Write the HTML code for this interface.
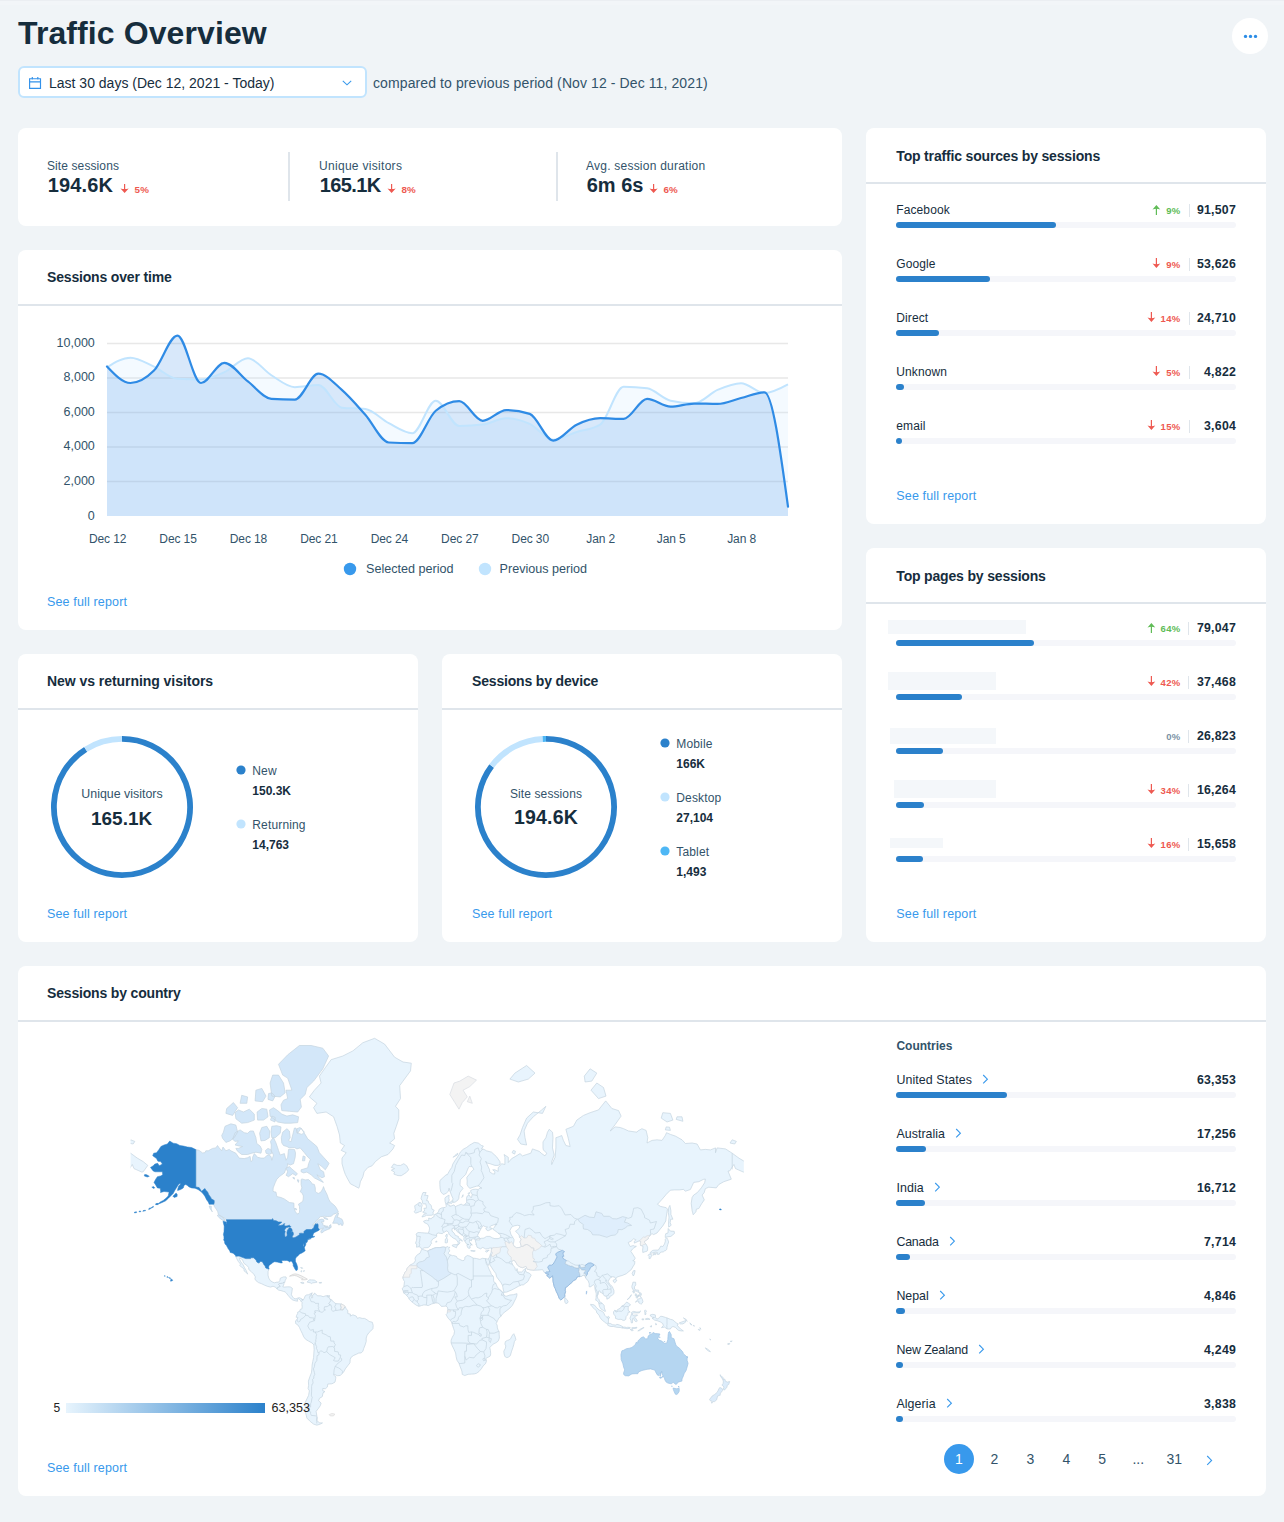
<!DOCTYPE html>
<html><head><meta charset="utf-8"><title>Traffic Overview</title>
<style>
*{box-sizing:border-box;margin:0;padding:0}
html,body{width:1284px;height:1522px;overflow:hidden}
body{background:#f0f4f7;font-family:"Liberation Sans",sans-serif;color:#162d3d;position:relative}
.abs{position:absolute}
.card{position:absolute;background:#fff;border-radius:8px}
.hd{position:absolute;left:0;right:0;height:2px;background:#dfe5eb}
.t{position:absolute;white-space:nowrap;line-height:1}
.ct{font-size:14px;font-weight:700;color:#162d3d}
.lnk{font-size:13px;color:#3899ec}
.lbl{font-size:13px;color:#162d3d}
.val{font-size:13px;font-weight:700;color:#162d3d;text-align:right}
.sec{color:#32536a}
.track{position:absolute;height:6px;border-radius:3px;background:#f5f6fa}
.bar{position:absolute;left:0;top:0;height:6px;border-radius:3px;background:#2b81cb}
.red{color:#ee5951}.grn{color:#60bc57}
.pct{position:absolute;font-size:10.5px;font-weight:700;white-space:nowrap;line-height:1;text-align:right}
.vd{position:absolute;width:1px;background:#dfe5eb}
</style></head>
<body>
<div class="abs" style="left:0;top:0;width:1284px;height:1px;background:#ebeef2"></div>
<div class="abs" style="left:0;top:1px;width:1284px;height:4px;background:#f2f5f8"></div>
<div class="t " style="left:18px;top:17.11px;font-size:32px;font-weight:700;color:#162d3d;letter-spacing:0.1px;">Traffic Overview</div>
<div class="abs" style="left:1232px;top:18px;width:36px;height:36px;border-radius:50%;background:#fff"></div>
<svg class="abs" style="left:1240px;top:30px" width="20" height="12" viewBox="0 0 20 12"><circle cx="5.5" cy="6.4" r="1.65" fill="#2b8ce6"/><circle cx="10.5" cy="6.4" r="1.65" fill="#2b8ce6"/><circle cx="15.5" cy="6.4" r="1.65" fill="#2b8ce6"/></svg>
<div class="abs" style="left:18px;top:66px;width:349px;height:32px;border:2px solid #c1e4fe;border-radius:6px;background:#fff"></div>
<svg class="abs" style="left:28px;top:76px" width="14" height="14" viewBox="0 0 14 14"><path d="M1.6 2.7h10.9v9.6H1.6zM1.6 5.8h10.9M4.3 1.1v2.4M9.8 1.1v2.4" fill="none" stroke="#3291ea" stroke-width="1.15"/></svg>
<div class="t " style="left:49px;top:76.15px;font-size:14px;color:#162d3d;">Last 30 days (Dec 12, 2021 - Today)</div>
<svg class="abs" style="left:341px;top:79px" width="12" height="8" viewBox="0 0 12 8"><path d="M1.8 1.8L6 5.8L10.2 1.8" fill="none" stroke="#3899ec" stroke-width="1.1"/></svg>
<div class="t " style="left:373px;top:76.15px;font-size:14px;color:#32536a;letter-spacing:0.1px;">compared to previous period (Nov 12 - Dec 11, 2021)</div>
<div class="card" style="left:18px;top:128px;width:824px;height:98px"></div>
<div class="vd" style="left:288px;top:152px;height:49px;width:2px"></div>
<div class="vd" style="left:556px;top:152px;height:49px;width:2px"></div>
<div class="t " style="left:47px;top:159.64px;font-size:12px;color:#32536a;letter-spacing:0.1px;">Site sessions</div>
<div class="t " style="left:47.7px;top:174.67px;font-size:20px;font-weight:700;color:#162d3d;letter-spacing:0.15px;">194.6K</div>
<div class="t " style="left:319px;top:159.64px;font-size:12px;color:#32536a;letter-spacing:0.3px;">Unique visitors</div>
<div class="t " style="left:319.7px;top:174.67px;font-size:20px;font-weight:700;color:#162d3d;letter-spacing:-0.62px;">165.1K</div>
<div class="t " style="left:586px;top:159.64px;font-size:12px;color:#32536a;letter-spacing:0.23px;">Avg. session duration</div>
<div class="t " style="left:586.7px;top:174.67px;font-size:20px;font-weight:700;color:#162d3d;letter-spacing:0.0px;">6m 6s</div>
<div class="abs" style="left:120.30px;top:184.3px"><svg width="9.2" height="8.9" viewBox="0 0 9.2 8.9" style="display:block;flex:none"><path d="M4.6 0V6.4" stroke="#ee5951" stroke-width="1.2" fill="none"/><path d="M0.5 4.5Q4.6 5.7 8.7 4.5L4.6 8.9Z" fill="#ee5951"/></svg></div>
<div class="t " style="left:134.6px;top:185.4px;font-size:9.8px;font-weight:700;color:#ee5951;letter-spacing:0.15px;">5%</div>
<div class="abs" style="left:387.10px;top:184.3px"><svg width="9.2" height="8.9" viewBox="0 0 9.2 8.9" style="display:block;flex:none"><path d="M4.6 0V6.4" stroke="#ee5951" stroke-width="1.2" fill="none"/><path d="M0.5 4.5Q4.6 5.7 8.7 4.5L4.6 8.9Z" fill="#ee5951"/></svg></div>
<div class="t " style="left:401.4px;top:185.4px;font-size:9.8px;font-weight:700;color:#ee5951;letter-spacing:0.15px;">8%</div>
<div class="abs" style="left:649.30px;top:184.3px"><svg width="9.2" height="8.9" viewBox="0 0 9.2 8.9" style="display:block;flex:none"><path d="M4.6 0V6.4" stroke="#ee5951" stroke-width="1.2" fill="none"/><path d="M0.5 4.5Q4.6 5.7 8.7 4.5L4.6 8.9Z" fill="#ee5951"/></svg></div>
<div class="t " style="left:663.5px;top:185.4px;font-size:9.8px;font-weight:700;color:#ee5951;letter-spacing:0.15px;">6%</div>
<div class="card" style="left:18px;top:250px;width:824px;height:380px"><div class="hd" style="top:54px"></div></div>
<div class="t " style="left:47px;top:270.35px;font-size:14px;font-weight:700;color:#162d3d;letter-spacing:-0.17px;">Sessions over time</div>
<svg class="abs" style="left:0;top:320px" width="860" height="210" viewBox="0 320 860 210"><rect x="107.0" y="480.75" width="681.0" height="1.5" fill="#e8e8e8"/><rect x="107.0" y="446.25" width="681.0" height="1.5" fill="#e8e8e8"/><rect x="107.0" y="411.75" width="681.0" height="1.5" fill="#e8e8e8"/><rect x="107.0" y="377.25" width="681.0" height="1.5" fill="#e8e8e8"/><rect x="107.0" y="342.75" width="681.0" height="1.5" fill="#e8e8e8"/><path d="M107.00,367.31C114.83,362.47 122.66,357.64 130.48,357.64C138.31,357.64 146.14,363.08 153.97,366.62C161.79,370.15 169.62,378.52 177.45,378.86C185.28,379.21 193.10,379.38 200.93,379.38C208.76,379.38 216.59,375.67 224.41,372.13C232.24,368.60 240.07,358.16 247.90,358.16C255.72,358.16 263.55,370.41 271.38,375.24C279.21,380.07 287.03,387.14 294.86,387.14C302.69,387.14 310.52,384.90 318.34,384.90C326.17,384.90 334.00,406.75 341.83,407.67C349.66,408.59 357.48,408.13 365.31,409.05C373.14,409.97 380.97,419.17 388.79,423.19C396.62,427.22 404.45,433.20 412.28,433.20C420.10,433.20 427.93,400.77 435.76,400.77C443.59,400.77 451.41,425.96 459.24,425.96C467.07,425.96 474.90,425.50 482.72,424.57C490.55,423.65 498.38,418.19 506.21,418.19C514.03,418.19 521.86,420.29 529.69,423.88C537.52,427.48 545.34,439.75 553.17,439.75C561.00,439.75 568.83,434.52 576.66,431.99C584.48,429.46 592.31,429.52 600.14,424.57C607.97,419.63 615.79,386.80 623.62,386.80C631.45,386.80 639.28,387.31 647.10,388.35C654.93,389.39 662.76,399.04 670.59,400.77C678.41,402.50 686.24,403.36 694.07,403.36C701.90,403.36 709.72,393.27 717.55,389.90C725.38,386.54 733.21,383.18 741.03,383.18C748.86,383.18 756.69,393.01 764.52,393.01C772.34,393.01 780.17,388.69 788.00,384.38L788.0,516.0L107.0,516.0Z" fill="#c1e4fe" fill-opacity="0.18"/><path d="M107.00,366.44C114.83,374.72 122.66,383.00 130.48,383.00C138.31,383.00 146.14,378.49 153.97,370.58C161.79,362.68 169.62,335.56 177.45,335.56C185.28,335.56 193.10,383.00 200.93,383.00C208.76,383.00 216.59,362.82 224.41,362.82C232.24,362.82 240.07,375.44 247.90,381.45C255.72,387.46 263.55,398.41 271.38,398.87C279.21,399.33 287.03,399.56 294.86,399.56C302.69,399.56 310.52,373.69 318.34,373.69C326.17,373.69 334.00,383.06 341.83,389.90C349.66,396.75 357.48,405.97 365.31,414.74C373.14,423.51 380.97,442.05 388.79,442.51C396.62,442.98 404.45,443.21 412.28,443.21C420.10,443.21 427.93,417.21 435.76,410.77C443.59,404.33 451.41,401.12 459.24,401.12C467.07,401.12 474.90,420.78 482.72,420.78C490.55,420.78 498.38,410.09 506.21,410.09C514.03,410.09 521.86,411.35 529.69,413.88C537.52,416.41 545.34,440.62 553.17,440.62C561.00,440.62 568.83,428.49 576.66,424.75C584.48,421.01 592.31,418.19 600.14,418.19C607.97,418.19 615.79,418.88 623.62,418.88C631.45,418.88 639.28,398.87 647.10,398.87C654.93,398.87 662.76,406.63 670.59,406.63C678.41,406.63 686.24,403.53 694.07,403.53C701.90,403.53 709.72,403.88 717.55,403.88C725.38,403.88 733.21,399.94 741.03,398.01C748.86,396.08 756.69,392.32 764.52,392.32C772.34,392.32 780.17,449.50 788.00,506.69L788.0,516.0L107.0,516.0Z" fill="#3a8ee6" fill-opacity="0.2"/><path d="M107.00,367.31C114.83,362.47 122.66,357.64 130.48,357.64C138.31,357.64 146.14,363.08 153.97,366.62C161.79,370.15 169.62,378.52 177.45,378.86C185.28,379.21 193.10,379.38 200.93,379.38C208.76,379.38 216.59,375.67 224.41,372.13C232.24,368.60 240.07,358.16 247.90,358.16C255.72,358.16 263.55,370.41 271.38,375.24C279.21,380.07 287.03,387.14 294.86,387.14C302.69,387.14 310.52,384.90 318.34,384.90C326.17,384.90 334.00,406.75 341.83,407.67C349.66,408.59 357.48,408.13 365.31,409.05C373.14,409.97 380.97,419.17 388.79,423.19C396.62,427.22 404.45,433.20 412.28,433.20C420.10,433.20 427.93,400.77 435.76,400.77C443.59,400.77 451.41,425.96 459.24,425.96C467.07,425.96 474.90,425.50 482.72,424.57C490.55,423.65 498.38,418.19 506.21,418.19C514.03,418.19 521.86,420.29 529.69,423.88C537.52,427.48 545.34,439.75 553.17,439.75C561.00,439.75 568.83,434.52 576.66,431.99C584.48,429.46 592.31,429.52 600.14,424.57C607.97,419.63 615.79,386.80 623.62,386.80C631.45,386.80 639.28,387.31 647.10,388.35C654.93,389.39 662.76,399.04 670.59,400.77C678.41,402.50 686.24,403.36 694.07,403.36C701.90,403.36 709.72,393.27 717.55,389.90C725.38,386.54 733.21,383.18 741.03,383.18C748.86,383.18 756.69,393.01 764.52,393.01C772.34,393.01 780.17,388.69 788.00,384.38" fill="none" stroke="#c1e4fe" stroke-width="2" stroke-linejoin="round"/><path d="M107.00,366.44C114.83,374.72 122.66,383.00 130.48,383.00C138.31,383.00 146.14,378.49 153.97,370.58C161.79,362.68 169.62,335.56 177.45,335.56C185.28,335.56 193.10,383.00 200.93,383.00C208.76,383.00 216.59,362.82 224.41,362.82C232.24,362.82 240.07,375.44 247.90,381.45C255.72,387.46 263.55,398.41 271.38,398.87C279.21,399.33 287.03,399.56 294.86,399.56C302.69,399.56 310.52,373.69 318.34,373.69C326.17,373.69 334.00,383.06 341.83,389.90C349.66,396.75 357.48,405.97 365.31,414.74C373.14,423.51 380.97,442.05 388.79,442.51C396.62,442.98 404.45,443.21 412.28,443.21C420.10,443.21 427.93,417.21 435.76,410.77C443.59,404.33 451.41,401.12 459.24,401.12C467.07,401.12 474.90,420.78 482.72,420.78C490.55,420.78 498.38,410.09 506.21,410.09C514.03,410.09 521.86,411.35 529.69,413.88C537.52,416.41 545.34,440.62 553.17,440.62C561.00,440.62 568.83,428.49 576.66,424.75C584.48,421.01 592.31,418.19 600.14,418.19C607.97,418.19 615.79,418.88 623.62,418.88C631.45,418.88 639.28,398.87 647.10,398.87C654.93,398.87 662.76,406.63 670.59,406.63C678.41,406.63 686.24,403.53 694.07,403.53C701.90,403.53 709.72,403.88 717.55,403.88C725.38,403.88 733.21,399.94 741.03,398.01C748.86,396.08 756.69,392.32 764.52,392.32C772.34,392.32 780.17,449.50 788.00,506.69" fill="none" stroke="#2f8be5" stroke-width="2.2" stroke-linejoin="round" stroke-linecap="round"/></svg>
<div class="t " style="right:1189.2px;top:510.02px;font-size:12.5px;color:#32536a;">0</div>
<div class="t " style="right:1189.2px;top:474.82px;font-size:12.5px;color:#32536a;">2,000</div>
<div class="t " style="right:1189.2px;top:440.32px;font-size:12.5px;color:#32536a;">4,000</div>
<div class="t " style="right:1189.2px;top:405.82px;font-size:12.5px;color:#32536a;">6,000</div>
<div class="t " style="right:1189.2px;top:371.32px;font-size:12.5px;color:#32536a;">8,000</div>
<div class="t " style="right:1189.2px;top:336.82px;font-size:12.5px;color:#32536a;">10,000</div>
<div class="t " style="left:67.6px;top:532.64px;font-size:12px;color:#32536a;letter-spacing:-0.1px;width:80px;text-align:center;">Dec 12</div>
<div class="t " style="left:138.04827586206895px;top:532.64px;font-size:12px;color:#32536a;letter-spacing:-0.1px;width:80px;text-align:center;">Dec 15</div>
<div class="t " style="left:208.49655172413793px;top:532.64px;font-size:12px;color:#32536a;letter-spacing:-0.1px;width:80px;text-align:center;">Dec 18</div>
<div class="t " style="left:278.9448275862069px;top:532.64px;font-size:12px;color:#32536a;letter-spacing:-0.1px;width:80px;text-align:center;">Dec 21</div>
<div class="t " style="left:349.3931034482759px;top:532.64px;font-size:12px;color:#32536a;letter-spacing:-0.1px;width:80px;text-align:center;">Dec 24</div>
<div class="t " style="left:419.84137931034485px;top:532.64px;font-size:12px;color:#32536a;letter-spacing:-0.1px;width:80px;text-align:center;">Dec 27</div>
<div class="t " style="left:490.28965517241375px;top:532.64px;font-size:12px;color:#32536a;letter-spacing:-0.1px;width:80px;text-align:center;">Dec 30</div>
<div class="t " style="left:560.7379310344828px;top:532.64px;font-size:12px;color:#32536a;letter-spacing:-0.1px;width:80px;text-align:center;">Jan 2</div>
<div class="t " style="left:631.1862068965518px;top:532.64px;font-size:12px;color:#32536a;letter-spacing:-0.1px;width:80px;text-align:center;">Jan 5</div>
<div class="t " style="left:701.6344827586207px;top:532.64px;font-size:12px;color:#32536a;letter-spacing:-0.1px;width:80px;text-align:center;">Jan 8</div>
<svg class="abs" style="left:342.4px;top:560.9px" width="16" height="16" viewBox="0 0 16 16"><circle cx="8" cy="8" r="6.2" fill="#3899ec"/></svg>
<div class="t " style="left:366px;top:563.03px;font-size:12.6px;color:#32536a;">Selected period</div>
<svg class="abs" style="left:476.5px;top:560.9px" width="16" height="16" viewBox="0 0 16 16"><circle cx="8" cy="8" r="6.2" fill="#c1e4fe"/></svg>
<div class="t " style="left:499.6px;top:563.03px;font-size:12.6px;color:#32536a;">Previous period</div>
<div class="t " style="left:47px;top:595.92px;font-size:12.5px;color:#3899ec;letter-spacing:0.15px;">See full report</div>
<div class="card" style="left:866px;top:128px;width:400px;height:396px"><div class="hd" style="top:54px"></div></div>
<div class="t " style="left:896.3px;top:148.75px;font-size:14px;font-weight:700;color:#162d3d;letter-spacing:-0.17px;">Top traffic sources by sessions</div>
<div class="t " style="left:896.3px;top:203.84px;font-size:12px;color:#162d3d;letter-spacing:0.1px;">Facebook</div>
<div class="abs" style="right:103.79999999999995px;top:206.46px;display:flex;align-items:flex-start;white-space:nowrap"><div style="margin-top:-1.66px;margin-right:4.9px"><svg width="8.8" height="10.0" viewBox="0 0 8.8 10.0" style="display:block;flex:none"><path d="M4.4 10.0V2.5" stroke="#60bc57" stroke-width="1.2" fill="none"/><path d="M0.5000000000000004 4.4Q4.4 3.2 8.3 4.4L4.4 0Z" fill="#60bc57"/></svg></div><span style="font-size:9.5px;font-weight:700;letter-spacing:0.3px;color:#60bc57;line-height:1;margin-right:-0.3px">9%</span></div>
<div class="vd" style="left:1189.0px;top:204.2px;height:12.6px"></div>
<div class="t " style="right:47.950000000000045px;top:203.79px;font-size:12.3px;font-weight:700;color:#162d3d;letter-spacing:0.25px;">91,507</div>
<div class="track" style="left:896px;top:222px;width:340px"><div class="bar" style="width:159.9px"></div></div>
<div class="t " style="left:896.3px;top:257.84px;font-size:12px;color:#162d3d;letter-spacing:0.1px;">Google</div>
<div class="abs" style="right:103.79999999999995px;top:260.46px;display:flex;align-items:flex-start;white-space:nowrap"><div style="margin-top:-2.46px;margin-right:4.9px"><svg width="8.8" height="10.0" viewBox="0 0 8.8 10.0" style="display:block;flex:none"><path d="M4.4 0V7.5" stroke="#ee5951" stroke-width="1.2" fill="none"/><path d="M0.5000000000000004 5.6Q4.4 6.8 8.3 5.6L4.4 10.0Z" fill="#ee5951"/></svg></div><span style="font-size:9.5px;font-weight:700;letter-spacing:0.3px;color:#ee5951;line-height:1;margin-right:-0.3px">9%</span></div>
<div class="vd" style="left:1189.0px;top:258.2px;height:12.6px"></div>
<div class="t " style="right:47.950000000000045px;top:257.79px;font-size:12.3px;font-weight:700;color:#162d3d;letter-spacing:0.25px;">53,626</div>
<div class="track" style="left:896px;top:276px;width:340px"><div class="bar" style="width:93.7px"></div></div>
<div class="t " style="left:896.3px;top:311.84px;font-size:12px;color:#162d3d;letter-spacing:0.1px;">Direct</div>
<div class="abs" style="right:103.79999999999995px;top:314.46px;display:flex;align-items:flex-start;white-space:nowrap"><div style="margin-top:-2.46px;margin-right:4.9px"><svg width="8.8" height="10.0" viewBox="0 0 8.8 10.0" style="display:block;flex:none"><path d="M4.4 0V7.5" stroke="#ee5951" stroke-width="1.2" fill="none"/><path d="M0.5000000000000004 5.6Q4.4 6.8 8.3 5.6L4.4 10.0Z" fill="#ee5951"/></svg></div><span style="font-size:9.5px;font-weight:700;letter-spacing:0.3px;color:#ee5951;line-height:1;margin-right:-0.3px">14%</span></div>
<div class="vd" style="left:1189.0px;top:312.2px;height:12.6px"></div>
<div class="t " style="right:47.950000000000045px;top:311.79px;font-size:12.3px;font-weight:700;color:#162d3d;letter-spacing:0.25px;">24,710</div>
<div class="track" style="left:896px;top:330px;width:340px"><div class="bar" style="width:43.2px"></div></div>
<div class="t " style="left:896.3px;top:365.84px;font-size:12px;color:#162d3d;letter-spacing:0.1px;">Unknown</div>
<div class="abs" style="right:103.79999999999995px;top:368.46px;display:flex;align-items:flex-start;white-space:nowrap"><div style="margin-top:-2.46px;margin-right:4.9px"><svg width="8.8" height="10.0" viewBox="0 0 8.8 10.0" style="display:block;flex:none"><path d="M4.4 0V7.5" stroke="#ee5951" stroke-width="1.2" fill="none"/><path d="M0.5000000000000004 5.6Q4.4 6.8 8.3 5.6L4.4 10.0Z" fill="#ee5951"/></svg></div><span style="font-size:9.5px;font-weight:700;letter-spacing:0.3px;color:#ee5951;line-height:1;margin-right:-0.3px">5%</span></div>
<div class="vd" style="left:1189.0px;top:366.2px;height:12.6px"></div>
<div class="t " style="right:47.950000000000045px;top:365.79px;font-size:12.3px;font-weight:700;color:#162d3d;letter-spacing:0.25px;">4,822</div>
<div class="track" style="left:896px;top:384px;width:340px"><div class="bar" style="width:8.4px"></div></div>
<div class="t " style="left:896.3px;top:419.84px;font-size:12px;color:#162d3d;letter-spacing:0.1px;">email</div>
<div class="abs" style="right:103.79999999999995px;top:422.46px;display:flex;align-items:flex-start;white-space:nowrap"><div style="margin-top:-2.46px;margin-right:4.9px"><svg width="8.8" height="10.0" viewBox="0 0 8.8 10.0" style="display:block;flex:none"><path d="M4.4 0V7.5" stroke="#ee5951" stroke-width="1.2" fill="none"/><path d="M0.5000000000000004 5.6Q4.4 6.8 8.3 5.6L4.4 10.0Z" fill="#ee5951"/></svg></div><span style="font-size:9.5px;font-weight:700;letter-spacing:0.3px;color:#ee5951;line-height:1;margin-right:-0.3px">15%</span></div>
<div class="vd" style="left:1189.0px;top:420.2px;height:12.6px"></div>
<div class="t " style="right:47.950000000000045px;top:419.79px;font-size:12.3px;font-weight:700;color:#162d3d;letter-spacing:0.25px;">3,604</div>
<div class="track" style="left:896px;top:438px;width:340px"><div class="bar" style="width:6.3px"></div></div>
<div class="t " style="left:896.3px;top:489.92px;font-size:12.5px;color:#3899ec;letter-spacing:0.15px;">See full report</div>
<div class="card" style="left:866px;top:548px;width:400px;height:394px"><div class="hd" style="top:54px"></div></div>
<div class="t " style="left:896.3px;top:568.75px;font-size:14px;font-weight:700;color:#162d3d;letter-spacing:-0.17px;">Top pages by sessions</div>
<div class="abs" style="left:888px;top:620px;width:138px;height:13.8px;background:#f4f7fa"></div>
<div class="abs" style="right:103.79999999999995px;top:624.26px;display:flex;align-items:flex-start;white-space:nowrap"><div style="margin-top:-1.66px;margin-right:4.9px"><svg width="8.8" height="10.0" viewBox="0 0 8.8 10.0" style="display:block;flex:none"><path d="M4.4 10.0V2.5" stroke="#60bc57" stroke-width="1.2" fill="none"/><path d="M0.5000000000000004 4.4Q4.4 3.2 8.3 4.4L4.4 0Z" fill="#60bc57"/></svg></div><span style="font-size:9.5px;font-weight:700;letter-spacing:0.3px;color:#60bc57;line-height:1;margin-right:-0.3px">64%</span></div>
<div class="vd" style="left:1188.3px;top:622.0px;height:12.6px"></div>
<div class="t " style="right:47.950000000000045px;top:621.59px;font-size:12.3px;font-weight:700;color:#162d3d;letter-spacing:0.25px;">79,047</div>
<div class="track" style="left:896px;top:640.3px;width:340px"><div class="bar" style="width:138.1px"></div></div>
<div class="abs" style="left:888px;top:672px;width:108px;height:17.6px;background:#f4f7fa"></div>
<div class="abs" style="right:103.79999999999995px;top:678.26px;display:flex;align-items:flex-start;white-space:nowrap"><div style="margin-top:-2.46px;margin-right:4.9px"><svg width="8.8" height="10.0" viewBox="0 0 8.8 10.0" style="display:block;flex:none"><path d="M4.4 0V7.5" stroke="#ee5951" stroke-width="1.2" fill="none"/><path d="M0.5000000000000004 5.6Q4.4 6.8 8.3 5.6L4.4 10.0Z" fill="#ee5951"/></svg></div><span style="font-size:9.5px;font-weight:700;letter-spacing:0.3px;color:#ee5951;line-height:1;margin-right:-0.3px">42%</span></div>
<div class="vd" style="left:1188.3px;top:676.0px;height:12.6px"></div>
<div class="t " style="right:47.950000000000045px;top:675.59px;font-size:12.3px;font-weight:700;color:#162d3d;letter-spacing:0.25px;">37,468</div>
<div class="track" style="left:896px;top:694.3px;width:340px"><div class="bar" style="width:65.5px"></div></div>
<div class="abs" style="left:889.7px;top:728px;width:106.3px;height:15.8px;background:#f4f7fa"></div>
<div class="abs" style="right:103.79999999999995px;top:732.26px;display:flex;align-items:flex-start;white-space:nowrap"><span style="font-size:9.5px;font-weight:700;letter-spacing:0.3px;color:#7a92a5;line-height:1;margin-right:-0.3px">0%</span></div>
<div class="vd" style="left:1188.3px;top:730.0px;height:12.6px"></div>
<div class="t " style="right:47.950000000000045px;top:729.59px;font-size:12.3px;font-weight:700;color:#162d3d;letter-spacing:0.25px;">26,823</div>
<div class="track" style="left:896px;top:748.3px;width:340px"><div class="bar" style="width:46.9px"></div></div>
<div class="abs" style="left:894px;top:780.4px;width:102px;height:17.2px;background:#f4f7fa"></div>
<div class="abs" style="right:103.79999999999995px;top:786.26px;display:flex;align-items:flex-start;white-space:nowrap"><div style="margin-top:-2.46px;margin-right:4.9px"><svg width="8.8" height="10.0" viewBox="0 0 8.8 10.0" style="display:block;flex:none"><path d="M4.4 0V7.5" stroke="#ee5951" stroke-width="1.2" fill="none"/><path d="M0.5000000000000004 5.6Q4.4 6.8 8.3 5.6L4.4 10.0Z" fill="#ee5951"/></svg></div><span style="font-size:9.5px;font-weight:700;letter-spacing:0.3px;color:#ee5951;line-height:1;margin-right:-0.3px">34%</span></div>
<div class="vd" style="left:1188.3px;top:784.0px;height:12.6px"></div>
<div class="t " style="right:47.950000000000045px;top:783.59px;font-size:12.3px;font-weight:700;color:#162d3d;letter-spacing:0.25px;">16,264</div>
<div class="track" style="left:896px;top:802.3px;width:340px"><div class="bar" style="width:28.4px"></div></div>
<div class="abs" style="left:889.7px;top:838px;width:53.3px;height:9.8px;background:#f4f7fa"></div>
<div class="abs" style="right:103.79999999999995px;top:840.26px;display:flex;align-items:flex-start;white-space:nowrap"><div style="margin-top:-2.46px;margin-right:4.9px"><svg width="8.8" height="10.0" viewBox="0 0 8.8 10.0" style="display:block;flex:none"><path d="M4.4 0V7.5" stroke="#ee5951" stroke-width="1.2" fill="none"/><path d="M0.5000000000000004 5.6Q4.4 6.8 8.3 5.6L4.4 10.0Z" fill="#ee5951"/></svg></div><span style="font-size:9.5px;font-weight:700;letter-spacing:0.3px;color:#ee5951;line-height:1;margin-right:-0.3px">16%</span></div>
<div class="vd" style="left:1188.3px;top:838.0px;height:12.6px"></div>
<div class="t " style="right:47.950000000000045px;top:837.59px;font-size:12.3px;font-weight:700;color:#162d3d;letter-spacing:0.25px;">15,658</div>
<div class="track" style="left:896px;top:856.3px;width:340px"><div class="bar" style="width:27.4px"></div></div>
<div class="t " style="left:896.3px;top:907.92px;font-size:12.5px;color:#3899ec;letter-spacing:0.15px;">See full report</div>
<div class="card" style="left:18px;top:654px;width:400px;height:288px"><div class="hd" style="top:54px"></div></div>
<div class="card" style="left:442px;top:654px;width:400px;height:288px"><div class="hd" style="top:54px"></div></div>
<div class="t " style="left:47px;top:674.35px;font-size:14px;font-weight:700;color:#162d3d;letter-spacing:-0.05px;">New vs returning visitors</div>
<div class="t " style="left:472px;top:674.35px;font-size:14px;font-weight:700;color:#162d3d;letter-spacing:-0.17px;">Sessions by device</div>
<svg class="abs" style="left:47.2px;top:731.7px" width="150" height="150" viewBox="47.2 731.7 150 150"><path d="M122.20 738.60A68.1 68.1 0 1 1 85.91 749.07" fill="none" stroke="#2b81cb" stroke-width="5.8"/><path d="M85.91 749.07A68.1 68.1 0 0 1 122.19 738.60" fill="none" stroke="#c1e4fe" stroke-width="5.8"/></svg>
<div class="t " style="left:42px;top:788.0px;font-size:12.4px;color:#32536a;width:160px;text-align:center;">Unique visitors</div>
<div class="t " style="left:41.599999999999994px;top:808.62px;font-size:19px;font-weight:700;color:#162d3d;width:160px;text-align:center;">165.1K</div>
<svg class="abs" style="left:235.1px;top:764.1px" width="12" height="12" viewBox="0 0 12 12"><circle cx="6" cy="6" r="4.6" fill="#2b81cb"/></svg>
<div class="t " style="left:252.3px;top:764.64px;font-size:12px;color:#32536a;letter-spacing:0.15px;">New</div>
<div class="t " style="left:252.3px;top:784.64px;font-size:12px;font-weight:700;color:#162d3d;">150.3K</div>
<svg class="abs" style="left:235.1px;top:818.1px" width="12" height="12" viewBox="0 0 12 12"><circle cx="6" cy="6" r="4.6" fill="#c1e4fe"/></svg>
<div class="t " style="left:252.3px;top:818.64px;font-size:12px;color:#32536a;letter-spacing:0.15px;">Returning</div>
<div class="t " style="left:252.3px;top:838.64px;font-size:12px;font-weight:700;color:#162d3d;">14,763</div>
<div class="t " style="left:47px;top:907.92px;font-size:12.5px;color:#3899ec;letter-spacing:0.15px;">See full report</div>
<svg class="abs" style="left:471px;top:731.7px" width="150" height="150" viewBox="471 731.7 150 150"><path d="M546.00 738.60A68.1 68.1 0 1 1 491.68 765.63" fill="none" stroke="#2b81cb" stroke-width="5.8"/><path d="M491.68 765.63A68.1 68.1 0 0 1 542.72 738.68" fill="none" stroke="#c1e4fe" stroke-width="5.8"/><path d="M542.72 738.68A68.1 68.1 0 0 1 545.99 738.60" fill="none" stroke="#4eb7f5" stroke-width="5.8"/></svg>
<div class="t " style="left:466px;top:788.34px;font-size:12px;color:#32536a;letter-spacing:0.1px;width:160px;text-align:center;">Site sessions</div>
<div class="t " style="left:466px;top:808.19px;font-size:19.5px;font-weight:700;color:#162d3d;letter-spacing:0.2px;width:160px;text-align:center;">194.6K</div>
<svg class="abs" style="left:659.1px;top:737.1px" width="12" height="12" viewBox="0 0 12 12"><circle cx="6" cy="6" r="4.6" fill="#2b81cb"/></svg>
<div class="t " style="left:676.3px;top:737.64px;font-size:12px;color:#32536a;letter-spacing:0.15px;">Mobile</div>
<div class="t " style="left:676.3px;top:757.64px;font-size:12px;font-weight:700;color:#162d3d;">166K</div>
<svg class="abs" style="left:659.1px;top:791.1px" width="12" height="12" viewBox="0 0 12 12"><circle cx="6" cy="6" r="4.6" fill="#c1e4fe"/></svg>
<div class="t " style="left:676.3px;top:791.64px;font-size:12px;color:#32536a;letter-spacing:0.15px;">Desktop</div>
<div class="t " style="left:676.3px;top:811.64px;font-size:12px;font-weight:700;color:#162d3d;">27,104</div>
<svg class="abs" style="left:659.1px;top:845.1px" width="12" height="12" viewBox="0 0 12 12"><circle cx="6" cy="6" r="4.6" fill="#4eb7f5"/></svg>
<div class="t " style="left:676.3px;top:845.64px;font-size:12px;color:#32536a;letter-spacing:0.15px;">Tablet</div>
<div class="t " style="left:676.3px;top:865.64px;font-size:12px;font-weight:700;color:#162d3d;">1,493</div>
<div class="t " style="left:472px;top:907.92px;font-size:12.5px;color:#3899ec;letter-spacing:0.15px;">See full report</div>
<div class="card" style="left:18px;top:966px;width:1248px;height:530px"><div class="hd" style="top:54px"></div></div>
<svg class="abs" style="left:18px;top:1022px" width="840" height="420" viewBox="18 1022 840 420"><path d="M195.8 1149.6L199.1 1150.4L202.5 1152.9L205.0 1152.7L205.8 1150.8L208.3 1150.8L212.5 1148.4L215.8 1147.9L217.5 1145.5L219.2 1147.9L221.7 1150.8L223.0 1147.0L225.9 1150.8L229.2 1149.4L230.9 1150.8L235.9 1153.2L239.2 1158.1L244.2 1158.6L247.6 1157.7L250.1 1156.4L250.9 1161.6L252.6 1160.3L252.6 1157.3L254.3 1153.6L257.6 1157.3L261.0 1158.1L264.3 1158.1L266.8 1155.5L268.5 1155.0L271.0 1156.4L271.8 1160.3L273.5 1155.0L271.0 1150.4L271.3 1145.0L270.5 1141.4L272.7 1138.2L273.5 1137.7L276.0 1143.0L277.7 1147.9L278.5 1150.4L280.2 1155.0L284.4 1153.6L286.0 1160.3L287.7 1157.3L288.5 1149.4L294.4 1149.4L295.5 1152.7L295.2 1157.3L293.5 1163.7L290.2 1165.0L287.4 1163.7L287.7 1165.8L286.0 1168.6L284.4 1172.9L279.8 1176.3L276.8 1179.2L275.2 1182.8L273.2 1187.9L273.0 1191.2L274.0 1191.8L276.0 1192.1L276.8 1196.5L281.0 1197.5L284.4 1199.0L289.4 1202.5L293.9 1203.1L294.0 1207.7L295.2 1211.3L296.9 1213.7L298.1 1214.0L299.4 1212.4L299.7 1209.6L299.4 1206.3L298.4 1204.3L302.7 1201.4L303.2 1199.0L303.4 1195.9L301.9 1192.8L300.2 1191.8L301.9 1187.9L301.1 1184.5L301.1 1179.6L301.9 1178.9L305.2 1179.9L308.6 1179.6L311.1 1182.1L311.9 1183.8L314.4 1184.5L315.3 1187.9L315.3 1191.2L316.9 1192.8L318.6 1193.4L321.1 1191.8L322.8 1188.6L323.5 1186.6L324.5 1189.5L327.0 1194.4L328.6 1199.0L330.3 1202.0L332.8 1204.0L335.3 1206.3L337.0 1209.1L338.3 1211.8L336.2 1213.4L333.6 1214.2L331.1 1216.3L327.8 1216.5L324.5 1216.3L320.3 1216.6L318.6 1218.7L316.1 1220.7L314.4 1223.0L312.4 1225.2L314.4 1224.7L316.1 1222.2L318.6 1219.9L321.9 1219.1L324.0 1219.9L323.6 1222.0L321.1 1222.0L322.8 1223.2L323.1 1225.2L324.5 1226.6L326.1 1227.6L328.0 1227.3L329.5 1228.8L331.1 1227.3L330.6 1224.7L329.1 1227.1L329.5 1228.8L326.1 1230.2L324.5 1230.9L321.9 1233.0L320.8 1232.3L321.1 1230.4L323.1 1228.8L323.6 1227.8L321.1 1229.0L319.4 1229.2L319.4 1229.9L318.8 1228.8L318.1 1227.8L318.1 1224.4L317.4 1223.8L316.3 1224.2L315.8 1223.6L314.4 1225.4L313.9 1227.3L313.1 1228.5L312.1 1229.0L311.9 1229.5L306.6 1229.5L305.6 1229.9L303.9 1231.6L304.1 1232.7L303.1 1233.4L301.1 1233.2L299.4 1233.4L299.6 1234.3L299.4 1234.8L296.9 1236.4L294.9 1237.5L293.5 1237.7L292.0 1237.0L292.5 1236.1L292.9 1235.5L293.5 1234.1L292.9 1231.8L291.2 1232.3L292.2 1231.1L292.0 1229.2L290.7 1228.0L289.4 1227.8L288.5 1229.0L287.7 1229.7L286.9 1232.3L287.2 1235.2L286.0 1237.0L285.0 1237.0L284.7 1234.1L285.2 1231.1L284.4 1230.4L285.0 1229.2L286.0 1227.8L286.9 1227.6L288.5 1227.1L289.9 1227.1L290.9 1226.6L290.2 1225.9L289.4 1225.2L286.9 1225.9L285.2 1225.9L283.9 1224.9L284.9 1223.7L284.0 1223.7L282.7 1224.9L280.2 1225.6L277.7 1225.4L279.7 1223.9L281.8 1222.2L281.0 1222.0L278.5 1222.0L276.0 1220.7L273.3 1220.5L273.0 1218.9L272.4 1218.7L272.3 1219.7L226.2 1219.7L226.2 1219.7L225.5 1218.9L222.9 1217.1L220.0 1215.6L218.3 1214.5L217.8 1211.8L216.2 1209.1L214.2 1206.3L213.8 1204.3L214.2 1202.8L214.2 1200.5L211.2 1198.7L210.8 1197.5L208.8 1194.7L207.5 1191.8L205.8 1190.2L205.0 1188.6L203.3 1189.7L201.6 1191.5L199.1 1187.6L195.8 1186.9Z" fill="#d3e7f9" stroke="#c4d4e0" stroke-width="0.7" stroke-linejoin="round"/><path d="M225.2 1221.2L222.5 1220.2L220.0 1218.4L217.2 1215.6L218.3 1214.8L221.7 1216.6L224.2 1218.9ZM212.3 1211.8L210.0 1208.5L209.2 1206.0L211.3 1206.3L211.2 1209.1ZM332.6 1223.2L333.8 1221.0L334.5 1218.4L335.7 1215.6L337.8 1213.2L338.7 1212.9L337.8 1215.8L337.0 1217.4L338.7 1217.4L340.3 1218.4L342.0 1219.2L342.8 1221.0L343.3 1223.2L342.7 1225.4L341.2 1225.2L340.8 1223.4L339.5 1224.9L338.2 1224.7L337.8 1223.2L335.3 1223.2ZM324.0 1225.4L326.1 1226.1L327.8 1226.1L327.0 1227.1L324.8 1226.6ZM323.6 1217.4L326.1 1217.9L328.1 1219.4L326.1 1219.2L324.0 1218.2ZM286.0 1175.2L288.5 1176.7L292.7 1173.7L296.0 1175.6L297.4 1173.7L295.2 1171.8L291.9 1169.0L289.4 1166.6L286.0 1168.2L287.7 1171.8ZM292.7 1177.8L294.4 1179.2L294.5 1177.8L293.0 1177.4ZM297.2 1179.9L298.4 1182.4L298.9 1180.3L297.9 1179.6ZM323.3 1182.4L320.3 1181.0L316.9 1179.2L314.6 1178.1L311.1 1174.8L306.9 1172.1L303.6 1172.9L301.1 1171.8L301.1 1169.8L307.7 1167.8L308.6 1163.7L310.3 1159.5L306.9 1155.9L304.4 1152.7L300.2 1147.9L296.9 1148.9L294.4 1147.5L289.4 1147.9L286.9 1146.5L283.5 1145.5L281.8 1143.0L281.3 1137.7L282.7 1132.2L286.9 1128.7L289.4 1131.0L290.2 1137.7L288.5 1140.4L291.0 1141.9L292.7 1135.0L294.4 1128.1L296.0 1128.1L297.7 1133.3L301.1 1128.1L304.4 1133.3L307.7 1138.8L312.8 1143.0L316.9 1146.5L319.4 1152.7L323.6 1157.3L329.0 1163.3L327.8 1165.8L325.3 1169.8L321.9 1166.6L317.8 1163.7L320.3 1169.8L323.6 1171.8L324.5 1176.7L321.9 1177.8L316.9 1174.8L319.4 1178.1L322.8 1181.4ZM235.9 1148.4L237.6 1151.3L241.7 1154.5L247.6 1154.5L251.8 1153.2L255.9 1152.2L261.0 1153.2L261.8 1149.4L260.1 1146.0L256.8 1143.5L255.9 1137.7L253.4 1131.0L250.1 1131.0L247.6 1133.3L244.2 1132.7L240.1 1129.9L235.1 1132.7L232.6 1139.3L235.1 1141.4L238.4 1140.9L235.1 1145.0L239.2 1146.0L242.6 1146.5L238.4 1148.4ZM222.5 1138.2L225.9 1142.4L230.0 1140.9L234.2 1137.7L237.6 1132.2L235.9 1125.1L230.9 1123.8L225.0 1126.3L223.4 1132.2L221.7 1135.5ZM261.0 1140.9L265.1 1140.4L269.3 1137.7L269.6 1131.0L266.8 1126.3L261.8 1127.5L259.6 1133.3ZM271.8 1137.7L275.2 1137.7L280.2 1133.3L281.0 1126.9L276.8 1125.7L271.8 1126.3L271.0 1132.2ZM266.0 1153.2L269.3 1154.5L271.8 1153.2L271.0 1149.9L268.0 1148.4L265.5 1150.4ZM235.9 1118.8L241.7 1123.2L247.6 1122.6L254.3 1120.1L254.3 1114.1L249.3 1109.2L243.4 1112.0L238.4 1109.9L235.1 1112.7ZM257.6 1120.1L263.5 1120.1L268.0 1116.8L266.8 1109.2L261.8 1108.5L257.1 1112.0ZM225.9 1113.4L232.6 1115.4L237.6 1107.7L233.4 1102.5L226.7 1108.5ZM270.5 1120.1L275.0 1122.0L275.2 1117.4L271.8 1116.1ZM270.1 1116.1L277.7 1122.0L284.4 1123.2L291.0 1123.2L297.7 1122.6L298.6 1116.8L292.7 1114.8L286.9 1116.1L281.8 1114.1L277.7 1110.6L273.5 1107.7L269.6 1109.9ZM281.8 1110.6L289.4 1111.3L297.7 1112.0L301.4 1107.0L300.2 1099.4L305.2 1094.5L306.9 1087.5L313.6 1081.1L322.8 1068.8L328.6 1056.0L322.8 1048.2L311.1 1045.5L299.4 1045.5L287.7 1054.8L278.5 1064.3L282.7 1075.1L287.7 1078.1L291.9 1090.2L286.0 1090.2L287.7 1098.6L283.5 1100.2L281.0 1104.8ZM271.8 1096.1L280.2 1096.9L285.2 1092.8L283.5 1083.0L278.5 1075.1L272.7 1075.1L270.1 1083.0ZM255.1 1100.9L262.6 1101.7L266.0 1096.1L261.8 1088.4L255.9 1090.2ZM268.0 1099.4L272.7 1100.9L275.2 1096.1L271.8 1092.8L268.5 1093.6ZM240.1 1103.3L246.8 1103.3L247.6 1096.9L241.7 1095.3ZM296.6 1132.7L301.9 1134.4L304.4 1132.2L300.2 1127.5L296.9 1128.7ZM302.4 1160.8L304.7 1160.8L305.2 1156.8L303.1 1155.9ZM294.4 1208.8L296.7 1209.9L296.4 1208.8L295.0 1208.3ZM328.8 1228.0L331.1 1227.3L330.5 1224.7L329.1 1226.1Z" fill="#d3e7f9" stroke="#c4d4e0" stroke-width="0.7" stroke-linejoin="round"/><path d="M309.4 1096.9L316.9 1103.3L313.6 1107.7L316.9 1113.4L326.1 1112.0L333.6 1116.8L337.0 1126.3L339.5 1135.0L340.3 1143.0L344.5 1145.5L341.2 1150.4L346.2 1152.7L342.0 1158.1L342.0 1163.7L343.7 1169.8L345.3 1174.4L347.8 1179.2L350.4 1183.8L354.5 1185.9L358.7 1188.2L359.5 1186.2L360.4 1181.7L362.9 1176.7L364.1 1171.8L367.9 1167.4L372.1 1165.8L375.4 1161.6L381.3 1156.8L388.0 1154.5L393.0 1148.9L394.6 1145.5L389.6 1143.0L394.6 1138.8L393.8 1133.3L396.3 1126.3L398.8 1118.8L398.8 1109.9L395.5 1106.3L400.5 1098.6L399.7 1085.7L403.0 1081.1L410.5 1070.9L411.3 1063.2L403.0 1062.0L394.6 1057.2L384.6 1044.1L374.6 1038.3L362.9 1042.7L352.9 1050.9L342.8 1056.0L331.1 1059.7L325.3 1067.7L319.4 1076.1L321.1 1083.0L314.4 1090.2Z" fill="#e8f4fd" stroke="#c4d4e0" stroke-width="0.7" stroke-linejoin="round"/><path d="M235.7 1256.2L239.7 1255.9L239.6 1256.3L245.8 1258.6L250.6 1258.6L250.6 1257.7L253.6 1257.8L256.1 1260.0L256.8 1261.9L257.6 1262.5L259.1 1263.1L259.8 1261.7L260.5 1261.4L262.0 1261.6L263.1 1262.9L263.8 1264.4L265.1 1265.9L265.8 1268.0L267.3 1268.6L268.5 1269.0L269.1 1268.8L268.1 1271.5L268.0 1275.1L268.8 1278.2L270.5 1280.8L272.7 1282.1L274.3 1282.8L276.8 1282.2L278.5 1282.2L279.8 1280.6L280.3 1278.2L283.5 1276.9L286.0 1276.9L286.4 1278.2L285.2 1280.5L284.7 1282.6L283.9 1282.2L282.5 1283.3L279.3 1283.5L278.7 1284.5L280.3 1286.4L277.3 1287.8L277.3 1289.1L275.2 1287.1L273.0 1286.2L270.6 1287.1L267.6 1286.4L264.6 1285.2L261.3 1283.6L258.5 1282.6L255.9 1280.6L254.9 1278.9L255.4 1276.9L253.8 1274.2L251.3 1271.7L248.8 1269.5L248.6 1267.4L246.6 1265.2L243.9 1263.3L242.4 1259.6L239.7 1257.9L239.6 1259.2L240.6 1261.6L242.9 1264.6L244.6 1267.8L246.4 1270.9L247.6 1274.2L247.1 1273.1L244.2 1271.1L243.9 1268.7L241.7 1267.2L239.6 1265.4L240.6 1264.2L238.4 1261.6L236.7 1258.6Z" fill="#e8f4fd" stroke="#c4d4e0" stroke-width="0.7" stroke-linejoin="round"/><path d="M277.3 1289.1L277.3 1287.8L280.3 1286.4L278.7 1284.5L279.3 1283.5L282.5 1283.3L283.9 1282.2L284.0 1284.0L282.8 1286.8L284.4 1287.1L287.7 1286.8L290.2 1286.9L292.4 1288.3L291.9 1291.8L291.4 1294.8L292.7 1296.9L294.0 1298.5L296.0 1298.9L297.9 1298.0L299.4 1297.7L302.1 1299.0L302.4 1300.4L301.2 1301.6L300.4 1300.2L298.6 1298.7L297.1 1299.7L297.7 1301.2L295.7 1300.9L292.9 1300.1L291.5 1299.2L289.4 1296.9L288.0 1295.3L286.4 1293.1L285.0 1291.8L283.5 1291.4L281.0 1290.6L278.8 1290.2Z" fill="#e8f4fd" stroke="#c4d4e0" stroke-width="0.7" stroke-linejoin="round"/><path d="M289.5 1276.2L292.7 1274.4L295.2 1273.9L297.7 1274.4L301.1 1275.7L304.4 1277.4L307.4 1279.2L305.2 1279.8L301.6 1279.8L302.7 1278.5L300.2 1277.8L296.9 1276.0L294.4 1275.5L291.9 1275.8Z" fill="#f3f3f3" stroke="#d0d0d0" stroke-width="0.7" stroke-linejoin="round"/><path d="M307.1 1282.1L309.4 1279.8L311.6 1279.9L314.4 1280.1L317.1 1282.1L315.3 1282.6L312.8 1282.8L311.6 1283.6L310.3 1282.8ZM300.6 1282.6L302.7 1282.3L304.1 1283.1L302.4 1283.5ZM319.1 1282.6L321.6 1282.4L321.4 1283.1L319.3 1283.1ZM300.6 1267.6L302.4 1267.8L302.7 1268.3L301.1 1268.2ZM300.7 1271.3L301.6 1272.0L301.7 1270.6ZM303.6 1271.5L304.2 1270.2L303.9 1271.8Z" fill="#e8f4fd" stroke="#c4d4e0" stroke-width="0.7" stroke-linejoin="round"/><path d="M226.2 1219.7L272.3 1219.7L272.4 1218.7L273.0 1218.9L273.3 1220.5L276.0 1220.7L278.5 1222.0L281.0 1222.0L281.8 1222.2L279.7 1223.9L277.7 1225.4L280.2 1225.6L282.7 1224.9L284.0 1223.7L284.9 1223.7L283.9 1224.9L285.2 1225.9L286.9 1225.9L289.4 1225.2L290.2 1225.9L290.9 1226.6L289.9 1227.1L288.5 1227.1L286.9 1227.6L286.0 1227.8L285.0 1229.2L284.4 1230.4L285.2 1231.1L284.7 1234.1L285.0 1237.0L286.0 1237.0L287.2 1235.2L286.9 1232.3L287.7 1229.7L288.5 1229.0L289.4 1227.8L290.7 1228.0L292.0 1229.2L292.2 1231.1L291.2 1232.3L292.9 1231.8L293.5 1234.1L292.9 1235.5L292.5 1236.1L292.0 1237.0L293.5 1237.7L294.9 1237.5L296.9 1236.4L299.4 1234.8L299.6 1234.3L299.4 1233.4L301.1 1233.2L303.1 1233.4L304.1 1232.7L303.9 1231.6L305.6 1229.9L306.6 1229.5L311.9 1229.5L312.1 1229.0L313.1 1228.5L313.9 1227.3L314.4 1225.4L315.8 1223.6L316.3 1224.2L317.4 1223.8L318.1 1224.4L318.1 1227.8L318.8 1228.8L319.4 1229.9L317.8 1230.9L316.1 1231.8L314.1 1232.7L313.3 1234.1L313.1 1234.8L312.8 1235.7L313.4 1236.4L314.4 1236.2L314.4 1237.0L313.4 1237.3L312.4 1237.5L311.3 1237.9L309.6 1238.0L308.2 1238.7L310.6 1238.4L311.1 1238.7L308.4 1239.5L307.7 1239.5L307.7 1240.6L307.1 1242.1L306.2 1243.0L305.4 1242.1L305.9 1243.6L305.7 1245.1L304.6 1247.0L303.9 1247.2L303.7 1244.6L304.1 1242.3L303.6 1244.0L302.9 1245.1L303.9 1247.0L304.4 1247.4L304.7 1249.0L305.2 1250.8L303.6 1251.9L301.4 1253.3L299.6 1253.9L297.9 1255.9L296.4 1257.1L295.7 1258.3L295.4 1259.8L295.5 1261.6L296.7 1264.0L297.6 1267.0L297.6 1269.1L297.1 1270.2L295.9 1270.4L294.9 1268.9L294.2 1267.6L293.2 1265.7L293.2 1264.2L292.7 1262.9L291.7 1261.6L291.0 1261.0L289.4 1261.9L288.4 1261.0L286.9 1260.4L284.5 1260.6L282.8 1260.4L281.7 1260.8L282.0 1261.9L282.3 1262.9L280.8 1262.9L279.0 1262.5L277.2 1262.1L274.7 1261.7L273.2 1262.3L272.2 1263.3L270.3 1264.4L269.0 1265.7L268.6 1267.2L269.1 1268.8L268.5 1269.0L267.3 1268.6L265.8 1268.0L265.1 1265.9L263.8 1264.4L263.1 1262.9L262.0 1261.6L260.5 1261.4L259.8 1261.7L259.1 1263.1L257.6 1262.5L256.8 1261.9L256.1 1260.0L253.6 1257.8L250.6 1257.7L250.6 1258.6L245.8 1258.6L239.6 1256.3L239.7 1255.9L235.7 1256.2L235.4 1255.3L233.6 1253.8L233.4 1253.3L232.2 1253.0L230.0 1252.3L229.9 1251.1L227.7 1248.0L227.5 1247.3L226.7 1246.1L226.7 1245.5L225.9 1245.1L224.7 1243.2L224.5 1241.2L223.6 1239.9L224.0 1238.6L223.9 1236.4L223.4 1234.6L224.0 1231.8L224.2 1226.6L224.0 1225.4L223.0 1221.2L225.0 1221.8L226.4 1222.0L226.9 1223.9L227.0 1222.2L226.2 1219.7ZM195.8 1149.6L191.6 1147.5L187.4 1147.0L183.3 1146.0L179.9 1145.5L176.6 1143.7L173.2 1143.2L169.7 1141.1L167.4 1144.0L164.0 1145.0L160.9 1146.5L159.0 1149.4L156.5 1152.7L153.7 1153.2L152.7 1155.7L154.8 1157.3L156.5 1158.6L157.9 1161.2L160.7 1161.6L162.4 1164.1L159.9 1165.4L159.0 1165.4L157.7 1163.3L154.8 1164.1L153.2 1165.8L150.5 1167.4L153.2 1171.0L155.0 1171.8L159.0 1171.8L162.4 1171.8L162.7 1174.8L160.7 1175.9L157.4 1176.7L155.7 1179.2L154.0 1182.4L155.7 1184.9L157.4 1187.9L160.2 1188.2L160.7 1191.2L160.5 1192.5L164.0 1191.5L166.5 1191.8L169.1 1192.1L168.2 1195.9L166.2 1198.1L163.2 1200.5L160.7 1201.7L158.5 1203.4L156.0 1204.6L159.9 1203.4L163.2 1202.0L165.7 1200.8L168.2 1198.4L170.7 1195.9L173.2 1193.4L174.9 1190.2L177.4 1186.2L179.1 1183.8L180.9 1183.8L178.6 1186.2L177.7 1189.2L177.6 1190.5L180.7 1189.5L183.3 1187.9L184.1 1185.2L185.8 1184.5L187.4 1185.5L189.1 1186.9L191.6 1187.9L195.0 1188.2L198.0 1189.5L200.8 1191.5L202.5 1193.1L203.3 1194.0L205.0 1196.5L206.7 1199.9L208.3 1202.0L209.2 1204.3L211.7 1204.3L213.8 1204.3L214.2 1202.8L214.2 1200.5L211.2 1198.7L210.8 1197.5L208.8 1194.7L207.5 1191.8L205.8 1190.2L205.0 1188.6L203.3 1189.7L201.6 1191.5L199.1 1187.6L195.8 1186.9ZM174.2 1197.5L177.1 1196.5L177.2 1194.4L176.1 1193.1L174.4 1194.7L172.9 1196.2ZM144.3 1175.9L147.3 1177.0L149.3 1176.3L146.8 1174.8L144.7 1174.4ZM151.8 1187.2L154.0 1188.6L154.7 1187.6L153.5 1186.6ZM150.8 1208.3L153.5 1207.1L153.3 1206.3L151.5 1207.4ZM148.8 1209.6L150.8 1208.5L150.3 1207.7L148.7 1208.8ZM142.8 1211.3L145.7 1210.7L145.3 1210.2L143.2 1210.6ZM139.1 1211.8L140.8 1211.7L140.6 1211.0L139.0 1211.2ZM134.5 1212.9L136.6 1212.6L136.5 1211.8L134.5 1212.1ZM155.5 1204.6L158.2 1204.6L158.0 1203.4L155.9 1203.6ZM170.7 1281.3L172.7 1280.5L172.1 1279.4L170.9 1279.2L170.6 1280.3ZM169.6 1278.5L170.7 1278.4L170.2 1277.8L169.6 1277.9ZM168.6 1277.7L169.5 1277.6L169.2 1277.4L168.6 1277.4ZM166.9 1277.3L167.9 1277.3L167.5 1276.6L166.9 1276.8ZM164.4 1276.2L165.2 1276.2L165.1 1275.7L164.5 1275.7Z" fill="#2b81cb" stroke="#2b81cb" stroke-width="0.5" stroke-linejoin="round"/><path d="M302.1 1299.0L303.1 1300.2L304.4 1298.0L305.2 1295.8L306.4 1295.0L308.6 1294.7L310.8 1293.6L312.3 1292.8L311.3 1294.1L311.8 1295.3L311.1 1296.9L311.9 1298.2L312.8 1297.2L312.3 1295.3L314.1 1294.3L314.4 1293.1L316.4 1294.5L317.4 1295.8L320.8 1295.8L323.1 1296.7L326.1 1295.7L328.0 1295.7L326.8 1296.5L329.5 1297.7L329.8 1299.2L331.5 1299.7L333.6 1302.1L335.8 1303.6L338.0 1303.8L341.2 1303.9L343.0 1304.8L345.0 1306.3L346.2 1308.6L347.8 1310.8L347.8 1313.6L350.4 1314.1L350.4 1316.1L352.9 1314.8L356.2 1316.1L357.4 1318.3L359.5 1317.6L362.1 1318.4L364.6 1318.4L367.1 1319.8L369.1 1321.4L372.4 1322.3L373.2 1325.6L372.9 1328.7L370.6 1331.2L368.7 1332.9L367.1 1335.4L366.2 1338.0L366.2 1341.5L365.1 1345.0L363.7 1348.5L362.9 1351.2L361.2 1352.9L358.7 1353.1L356.2 1354.3L353.7 1355.4L351.2 1357.2L350.2 1359.4L350.0 1362.8L347.8 1365.6L345.3 1368.9L343.7 1371.9L342.2 1373.5L340.3 1375.5L337.5 1375.7L334.8 1374.7L333.8 1373.9L333.6 1375.1L335.8 1376.7L335.7 1378.8L335.0 1382.1L332.0 1383.8L327.8 1384.0L327.3 1387.1L325.3 1388.8L322.8 1388.4L322.8 1390.8L325.0 1391.5L323.0 1392.9L322.3 1396.6L319.4 1398.4L318.6 1400.8L321.1 1403.0L320.3 1405.7L318.1 1408.8L316.1 1411.4L316.9 1416.2L317.3 1417.8L316.8 1420.3L319.4 1422.9L322.5 1422.9L320.3 1424.1L316.9 1425.2L313.6 1424.1L310.3 1421.5L306.9 1418.1L305.6 1412.7L305.2 1407.5L305.1 1402.5L306.9 1398.9L308.6 1395.4L309.4 1390.8L308.1 1388.6L308.6 1385.3L308.4 1381.1L309.8 1376.9L311.4 1372.9L311.9 1368.9L312.1 1365.1L312.8 1361.3L313.6 1357.6L313.8 1353.9L314.1 1349.4L313.8 1344.8L311.9 1342.9L308.6 1341.1L305.7 1339.4L303.7 1336.8L302.4 1333.7L300.7 1330.3L299.4 1327.3L297.9 1325.0L295.7 1323.6L295.5 1320.8L297.2 1319.3L297.9 1317.4L296.2 1317.3L296.6 1315.3L297.6 1313.6L297.7 1312.1L299.6 1311.4L300.2 1309.4L301.9 1308.9L302.2 1306.9L301.9 1304.4L302.2 1302.4L301.2 1301.6L302.4 1300.4Z" fill="#e8f4fd" stroke="#c4d4e0" stroke-width="0.7" stroke-linejoin="round"/><path d="M329.1 1414.6L332.0 1413.5L334.8 1414.0L333.6 1415.9L330.3 1415.9Z" fill="#f3f3f3" stroke="#dcdcdc" stroke-width="0.7" stroke-linejoin="round"/><path d="M328.0 1296.7L329.5 1296.7L329.5 1295.5L328.3 1295.7Z" fill="#e8f4fd" stroke="#c4d4e0" stroke-width="0.7" stroke-linejoin="round"/><path d="M341.2 1303.9L340.5 1305.3L341.2 1307.6L340.3 1309.8L343.0 1309.9L345.0 1306.8L345.0 1306.3L343.0 1304.8Z" fill="#f3f3f3" stroke="#ddd" stroke-width="0.7" stroke-linejoin="round"/><path d="M312.3 1293.5L310.4 1295.0L309.4 1297.4L310.4 1299.7L311.1 1301.6L314.3 1302.0L315.4 1303.4L318.6 1303.3L318.1 1306.1L318.9 1307.9L318.1 1308.9L319.1 1309.9L319.6 1311.6" fill="none" stroke="#c4d4e0" stroke-width="0.7" stroke-linejoin="round"/><path d="M319.6 1311.6L317.9 1310.7L314.8 1310.8L314.8 1311.8L315.8 1312.6L314.4 1312.8L314.3 1313.9L315.4 1315.4L314.5 1320.6" fill="none" stroke="#c4d4e0" stroke-width="0.7" stroke-linejoin="round"/><path d="M299.6 1311.4L301.9 1312.9L305.6 1313.8L305.7 1315.2L308.4 1315.8L309.6 1317.6L314.3 1318.1L313.3 1319.9L314.5 1320.6" fill="none" stroke="#c4d4e0" stroke-width="0.7" stroke-linejoin="round"/><path d="M305.7 1315.2L305.1 1316.1L303.2 1317.9L300.7 1319.3L299.9 1321.3L298.6 1321.9L297.1 1321.0L297.2 1319.3" fill="none" stroke="#c4d4e0" stroke-width="0.7" stroke-linejoin="round"/><path d="M314.5 1320.6L309.6 1322.3L307.7 1326.0L309.4 1329.0L310.6 1330.3L313.4 1329.5L313.4 1332.0L315.1 1332.0" fill="none" stroke="#c4d4e0" stroke-width="0.7" stroke-linejoin="round"/><path d="M315.1 1332.0L316.6 1334.6L316.1 1336.6L316.1 1339.4L315.4 1339.9L316.1 1341.0L315.1 1342.9L315.3 1343.2L313.8 1344.8" fill="none" stroke="#c4d4e0" stroke-width="0.7" stroke-linejoin="round"/><path d="M315.1 1332.0L317.4 1332.0L322.3 1330.0L322.1 1333.2L326.1 1334.8L328.1 1336.3L330.3 1336.8L330.8 1341.1L334.0 1341.1L334.1 1343.0L335.3 1344.4L334.8 1345.9L334.1 1347.3" fill="none" stroke="#c4d4e0" stroke-width="0.7" stroke-linejoin="round"/><path d="M334.1 1347.3L332.6 1346.5L328.1 1346.9L327.3 1348.7L326.7 1351.6" fill="none" stroke="#c4d4e0" stroke-width="0.7" stroke-linejoin="round"/><path d="M326.7 1351.6L324.0 1352.7L322.5 1351.4L320.6 1350.8L319.1 1352.6L317.9 1352.6L317.4 1350.3L316.4 1348.3L316.9 1346.6L316.1 1345.9L315.3 1343.2" fill="none" stroke="#c4d4e0" stroke-width="0.7" stroke-linejoin="round"/><path d="M319.1 1352.6L318.9 1354.8L317.1 1355.7L316.8 1360.5L314.9 1363.2L314.4 1366.8L313.4 1368.9L314.4 1372.5L314.8 1374.3L313.8 1376.3L313.8 1378.2L312.6 1379.4L313.1 1383.4L312.1 1384.0L311.6 1386.6L311.6 1391.1L311.4 1395.9L312.3 1397.3L311.8 1398.9L311.3 1402.3L310.6 1403.5L310.6 1407.0L308.7 1408.3L308.9 1411.1L310.6 1411.9L310.6 1413.8L311.3 1415.4L315.3 1415.8L316.9 1416.2" fill="none" stroke="#c4d4e0" stroke-width="0.7" stroke-linejoin="round"/><path d="M316.8 1417.1L316.8 1423.5" fill="none" stroke="#c4d4e0" stroke-width="0.7" stroke-linejoin="round"/><path d="M334.1 1347.3L334.6 1348.9L334.6 1351.4L338.2 1351.9L338.8 1354.8L340.7 1355.0L340.2 1357.7" fill="none" stroke="#c4d4e0" stroke-width="0.7" stroke-linejoin="round"/><path d="M326.7 1351.6L329.5 1354.4L332.8 1356.3L335.2 1357.7L333.5 1360.5L335.2 1361.1L338.3 1361.1L340.2 1357.7" fill="none" stroke="#c4d4e0" stroke-width="0.7" stroke-linejoin="round"/><path d="M340.2 1357.7L341.7 1358.7L341.5 1360.7L338.2 1363.0L335.2 1366.4" fill="none" stroke="#c4d4e0" stroke-width="0.7" stroke-linejoin="round"/><path d="M335.2 1366.4L337.8 1367.6L338.5 1367.8L341.2 1369.7L342.5 1371.3L342.2 1373.5" fill="none" stroke="#c4d4e0" stroke-width="0.7" stroke-linejoin="round"/><path d="M335.2 1366.4L334.1 1369.9L333.8 1373.9" fill="none" stroke="#c4d4e0" stroke-width="0.7" stroke-linejoin="round"/><path d="M329.8 1299.2L331.1 1300.2L328.8 1303.7L330.0 1304.9" fill="none" stroke="#c4d4e0" stroke-width="0.7" stroke-linejoin="round"/><path d="M331.5 1299.7L331.1 1300.2" fill="none" stroke="#c4d4e0" stroke-width="0.7" stroke-linejoin="round"/><path d="M328.8 1303.7L330.0 1304.9L331.0 1304.9L331.2 1306.1L331.8 1307.1L331.5 1309.8L332.8 1311.4L335.7 1310.4L337.0 1310.4" fill="none" stroke="#c4d4e0" stroke-width="0.7" stroke-linejoin="round"/><path d="M330.0 1304.9L327.1 1306.6L324.5 1306.8L324.0 1309.4L325.5 1309.9L324.3 1310.4L322.1 1312.4L319.6 1311.6" fill="none" stroke="#c4d4e0" stroke-width="0.7" stroke-linejoin="round"/><path d="M335.8 1303.6L335.7 1304.8L334.5 1306.9L335.7 1308.1L335.7 1310.4" fill="none" stroke="#c4d4e0" stroke-width="0.7" stroke-linejoin="round"/><path d="M337.0 1310.4L340.3 1309.8" fill="none" stroke="#c4d4e0" stroke-width="0.7" stroke-linejoin="round"/><path d="M341.2 1303.9L340.5 1305.3L341.2 1307.6L340.3 1309.8" fill="none" stroke="#c4d4e0" stroke-width="0.7" stroke-linejoin="round"/><path d="M340.3 1309.8L343.0 1309.9L345.0 1306.8" fill="none" stroke="#c4d4e0" stroke-width="0.7" stroke-linejoin="round"/><clipPath id="cl180"><rect x="130.6" y="1022" width="60" height="420"/></clipPath><clipPath id="clR"><rect x="100" y="1022" width="643.8" height="420"/></clipPath><g clip-path="url(#clR)"><path d="M416.5 1247.2L416.7 1244.0L415.5 1243.4L416.5 1240.3L416.9 1236.6L416.0 1234.1L418.0 1232.5L421.7 1232.7L425.1 1233.0L428.4 1233.2L429.2 1230.6L429.6 1228.0L428.9 1226.4L427.7 1224.2L424.2 1222.5L423.5 1221.2L426.4 1220.2L428.7 1220.6L428.7 1218.0L431.1 1218.9L431.7 1217.9L433.9 1216.9L434.1 1214.8L436.7 1213.6L438.4 1211.8L439.3 1209.2L441.4 1208.0L443.1 1207.7L445.3 1207.4L446.3 1206.3L445.8 1203.7L445.1 1201.7L444.9 1198.4L445.6 1197.2L448.1 1195.6L449.1 1195.1L448.8 1199.0L449.4 1199.9L448.1 1202.0L447.4 1203.4L448.1 1204.9L449.8 1205.2L449.8 1206.3L452.0 1205.7L454.0 1204.9L455.3 1206.6L458.1 1205.4L461.5 1204.0L462.6 1205.2L464.5 1205.0L464.8 1204.3L466.7 1202.5L466.5 1198.1L467.3 1195.9L469.2 1195.1L470.7 1197.5L471.5 1197.5L472.2 1194.4L470.7 1191.8L470.7 1190.5L472.7 1189.5L475.7 1189.2L478.2 1189.5L479.9 1188.2L481.9 1188.1L479.9 1187.2L479.0 1185.9L476.5 1186.2L473.2 1187.2L469.8 1188.4L468.2 1186.6L467.0 1184.5L467.2 1181.0L466.8 1177.4L469.8 1173.7L472.3 1170.6L473.8 1169.4L472.3 1166.6L469.0 1166.6L468.5 1167.4L467.0 1171.0L465.7 1174.4L462.3 1177.8L460.3 1179.9L460.0 1184.5L460.1 1185.5L462.3 1187.2L463.0 1188.6L461.6 1190.2L459.8 1192.5L459.0 1195.9L458.8 1198.4L457.8 1200.2L455.3 1202.0L454.5 1202.3L453.0 1202.3L452.6 1200.5L453.0 1198.7L451.5 1195.3L450.1 1191.5L449.8 1190.8L449.1 1188.2L448.4 1191.2L446.4 1193.1L444.8 1194.0L443.1 1194.4L440.8 1191.8L440.1 1188.2L439.8 1184.5L439.8 1181.0L441.4 1178.9L443.9 1177.0L445.9 1174.8L447.3 1174.8L449.8 1170.2L451.8 1167.4L452.8 1164.1L454.8 1160.8L457.3 1157.3L459.0 1154.5L460.6 1151.8L463.1 1149.4L466.5 1147.5L469.8 1145.0L474.3 1142.4L478.2 1143.0L481.5 1145.5L483.4 1146.0L481.5 1148.9L484.0 1149.4L486.5 1150.8L491.6 1152.2L496.6 1156.8L499.9 1161.6L500.2 1164.1L498.2 1165.4L494.9 1165.4L489.9 1163.7L486.5 1162.9L485.7 1161.2L487.4 1165.0L489.6 1169.8L489.6 1171.8L492.4 1173.7L494.6 1174.1L494.9 1171.8L492.7 1169.8L494.9 1169.8L498.2 1171.4L498.2 1167.8L501.6 1163.7L504.9 1164.5L504.9 1157.3L504.1 1154.5L508.3 1157.3L508.3 1162.5L511.6 1158.6L514.9 1156.8L520.0 1153.6L522.5 1155.9L526.6 1154.5L530.8 1153.2L532.5 1148.9L539.2 1151.3L541.7 1153.6L545.0 1155.9L546.7 1153.2L543.4 1149.9L543.0 1147.9L543.0 1141.9L545.9 1137.7L547.5 1132.2L549.2 1129.3L552.5 1132.2L553.0 1137.7L552.5 1147.9L554.2 1155.0L551.7 1161.6L551.7 1164.5L555.1 1157.3L555.9 1147.9L555.9 1137.7L559.2 1136.6L561.7 1135.5L563.4 1140.4L565.9 1145.5L570.1 1146.5L568.4 1138.8L565.9 1129.3L573.4 1126.3L576.8 1120.1L583.5 1115.4L590.1 1112.7L598.5 1109.9L605.7 1100.9L611.9 1108.5L618.6 1110.6L621.1 1116.1L615.2 1124.5L610.2 1131.0L615.2 1126.9L620.2 1127.5L623.6 1128.7L628.6 1131.0L636.9 1132.2L637.8 1131.0L641.9 1128.7L646.1 1130.4L647.8 1137.7L647.0 1143.0L652.0 1140.4L657.0 1139.8L662.0 1140.4L665.3 1135.5L666.5 1132.7L670.4 1134.4L675.4 1136.1L682.0 1139.8L685.4 1143.5L692.1 1143.0L697.1 1144.0L700.4 1149.9L705.4 1149.4L710.5 1149.9L715.5 1147.9L715.5 1152.7L717.1 1147.9L725.5 1148.9L732.2 1153.2L738.9 1158.1L744.7 1161.6L749.4 1165.4L744.7 1171.8L743.4 1172.1L735.5 1168.6L733.9 1164.5L733.0 1165.8L729.7 1171.0L728.0 1171.0L731.3 1179.2L723.8 1181.7L718.8 1184.5L716.3 1187.9L708.8 1187.2L705.4 1188.6L704.1 1192.8L702.1 1195.0L704.3 1199.9L701.8 1203.4L698.8 1208.5L696.4 1209.1L695.9 1211.8L693.2 1214.8L692.1 1210.5L691.2 1203.4L692.1 1197.5L693.7 1195.0L697.1 1192.8L701.3 1187.9L704.6 1182.8L705.4 1179.2L703.8 1179.2L698.8 1181.7L693.7 1182.4L690.4 1189.5L685.4 1191.2L683.4 1189.4L679.5 1189.9L674.5 1189.9L670.4 1190.2L666.2 1194.4L662.3 1199.0L657.5 1204.3L660.3 1206.3L662.8 1206.9L666.2 1207.7L667.5 1209.1L667.0 1212.4L666.2 1217.1L665.8 1221.0L662.8 1225.9L659.5 1229.9L657.0 1233.0L653.6 1234.6L652.0 1233.6L649.8 1235.7L648.3 1237.5L648.1 1239.0L644.6 1241.2L644.5 1242.5L646.0 1244.0L647.6 1247.2L647.6 1250.3L647.1 1251.1L645.3 1251.7L642.8 1252.5L642.6 1250.3L642.9 1247.2L642.9 1246.1L640.6 1245.5L640.3 1243.8L640.9 1241.6L639.3 1240.8L635.3 1242.7L634.6 1243.2L634.1 1241.9L635.8 1239.7L633.6 1238.8L631.1 1241.2L628.2 1242.5L629.4 1245.1L630.2 1246.5L633.3 1245.5L634.3 1246.1L636.4 1246.3L633.6 1248.2L632.4 1249.2L630.8 1251.3L632.8 1254.3L634.9 1257.7L635.1 1258.8L633.6 1260.4L632.8 1260.6L634.9 1261.4L634.6 1264.0L632.8 1266.9L631.3 1269.6L628.9 1271.5L626.4 1273.7L622.2 1275.5L620.2 1276.0L616.9 1277.1L615.7 1279.0L614.7 1277.1L612.7 1276.7L610.2 1277.8L609.7 1278.7L608.2 1281.3L609.5 1284.0L612.2 1286.4L613.9 1290.4L614.0 1293.5L611.9 1295.5L609.9 1296.3L609.7 1297.7L606.9 1299.2L606.7 1297.2L606.0 1296.2L604.3 1295.8L603.5 1294.7L602.3 1293.1L600.2 1292.3L600.0 1291.1L599.3 1290.9L598.5 1291.2L598.5 1293.5L597.3 1296.0L597.7 1298.2L599.0 1299.7L599.5 1301.6L601.3 1302.6L602.3 1303.3L604.2 1305.6L604.3 1307.8L605.5 1311.3L604.2 1311.1L600.8 1308.8L599.5 1306.6L599.0 1304.4L598.7 1302.7L596.8 1300.6L595.7 1300.2L596.2 1296.9L596.2 1293.5L595.2 1290.0L594.7 1286.6L594.5 1285.7L593.2 1284.5L591.8 1286.1L590.1 1286.9L589.0 1286.6L589.3 1284.0L588.1 1280.5L586.6 1279.4L585.6 1277.8L585.0 1275.5L583.1 1275.1L581.8 1276.2L580.1 1276.6L578.4 1276.6L576.8 1277.3L576.4 1278.7L575.8 1279.6L573.4 1280.6L571.8 1282.6L568.9 1284.9L567.1 1286.8L565.4 1287.5L565.2 1290.9L565.6 1291.6L564.7 1294.3L564.9 1296.3L563.4 1298.0L562.1 1298.9L560.9 1300.1L559.2 1298.5L558.7 1296.9L557.6 1294.0L556.4 1291.8L555.1 1288.3L554.2 1286.6L553.4 1283.1L553.0 1281.3L552.9 1278.7L552.7 1276.9L552.5 1275.7L550.0 1278.2L549.9 1278.3L547.0 1275.7L546.7 1275.5L548.9 1274.2L545.9 1273.7L545.4 1272.9L544.2 1272.4L543.4 1270.9L542.5 1269.6L539.2 1270.0L535.0 1270.2L534.3 1270.2L530.0 1269.8L527.1 1269.1L526.3 1266.7L525.5 1266.5L522.5 1267.6L520.0 1266.9L517.5 1265.2L516.3 1263.1L514.9 1260.8L513.3 1260.2L512.4 1261.2L511.6 1262.1L512.3 1264.0L513.3 1265.9L514.9 1267.4L515.3 1269.5L516.3 1270.9L517.0 1268.5L517.6 1270.6L517.1 1271.8L519.1 1272.0L521.6 1272.0L523.8 1270.0L525.1 1268.5L525.6 1268.2L525.6 1270.7L526.6 1272.4L529.3 1273.1L531.3 1275.1L529.2 1278.7L528.0 1281.3L525.8 1283.1L523.3 1284.9L521.6 1284.9L518.6 1286.2L514.9 1288.3L511.6 1290.0L506.6 1292.1L504.1 1292.3L503.3 1290.0L502.9 1287.5L502.4 1285.2L500.7 1282.2L498.2 1279.0L496.7 1276.9L495.7 1273.3L493.6 1270.6L491.6 1267.4L489.9 1265.0L489.8 1262.1L488.7 1265.0L488.5 1265.4L487.0 1263.8L485.9 1261.4L485.7 1261.2L485.4 1258.6L487.4 1259.0L488.7 1258.6L489.7 1256.3L490.2 1254.7L491.2 1252.3L491.4 1250.3L491.6 1248.6L491.9 1248.0L489.9 1248.0L488.2 1248.6L485.7 1249.0L483.2 1247.6L482.7 1247.4L480.7 1248.8L478.2 1247.8L477.0 1247.2L476.5 1245.1L475.7 1244.0L476.5 1244.2L475.7 1242.3L475.2 1240.8L476.0 1239.9L477.4 1239.9L479.9 1239.9L479.9 1238.6L481.5 1238.3L484.0 1238.1L486.5 1236.4L489.9 1236.4L492.4 1237.9L494.9 1238.6L498.2 1238.6L500.7 1237.5L500.7 1235.2L498.2 1233.2L497.7 1232.7L494.9 1230.6L493.2 1229.5L492.9 1228.8L494.6 1227.1L495.4 1225.2L497.1 1224.4L494.1 1224.7L490.7 1225.9L489.9 1226.9L489.9 1227.8L492.4 1228.5L490.7 1229.5L488.5 1230.6L487.2 1230.6L485.7 1228.5L487.5 1227.1L484.9 1226.6L483.2 1225.6L482.7 1225.9L481.0 1228.8L479.4 1231.8L478.2 1234.1L477.4 1235.2L478.4 1236.6L479.0 1237.7L479.9 1238.1L478.2 1238.6L476.5 1239.2L475.2 1240.1L474.8 1239.0L473.2 1238.8L471.5 1239.2L471.5 1240.8L469.8 1240.1L469.7 1239.5L469.3 1241.2L470.2 1242.9L471.5 1245.1L471.0 1245.3L469.8 1246.1L470.2 1248.0L469.0 1248.4L467.7 1247.6L467.0 1245.7L467.0 1244.4L469.0 1244.6L467.0 1244.2L466.0 1243.2L465.2 1241.6L463.8 1239.9L464.0 1237.5L463.5 1236.4L462.3 1235.2L461.6 1234.9L459.0 1233.0L456.8 1231.3L455.6 1229.0L454.6 1229.9L454.1 1228.0L452.1 1228.5L452.0 1231.1L454.1 1233.0L455.1 1235.2L458.5 1236.6L458.1 1237.7L459.8 1238.6L462.3 1240.6L462.3 1241.2L459.8 1239.7L459.1 1241.4L460.0 1242.9L459.0 1244.2L457.6 1245.3L458.0 1243.6L458.3 1242.9L457.8 1241.9L457.0 1240.8L456.1 1239.5L455.3 1239.0L453.1 1238.0L451.8 1236.9L449.8 1235.2L448.9 1234.1L448.6 1232.7L447.8 1231.6L446.3 1230.9L444.8 1232.0L443.9 1232.3L442.3 1233.6L440.4 1233.4L438.1 1233.0L436.6 1233.9L436.6 1235.5L436.7 1236.6L435.1 1237.7L432.7 1239.0L430.9 1241.9L431.7 1243.4L430.6 1244.4L430.1 1245.9L428.1 1247.6L424.0 1247.8L422.5 1249.0L421.4 1248.8L420.7 1247.4L419.0 1246.7Z" fill="#e8f4fd" stroke="#c4d4e0" stroke-width="0.7" stroke-linejoin="round"/><path d="M730.0 1143.0L734.7 1144.0L736.4 1141.4L732.2 1139.8Z" fill="#e8f4fd" stroke="#c4d4e0" stroke-width="0.7" stroke-linejoin="round"/></g><path d="M732.2 1153.2L732.2 1169.4" fill="none" stroke="#c4d4e0" stroke-width="0.7" stroke-linejoin="round"/><g clip-path="url(#cl180)"><path d="M-185.0 1247.2L-184.9 1244.0L-186.0 1243.4L-185.0 1240.3L-184.7 1236.6L-185.5 1234.1L-183.5 1232.5L-179.9 1232.7L-176.5 1233.0L-173.2 1233.2L-172.3 1230.6L-172.0 1228.0L-172.7 1226.4L-173.8 1224.2L-177.3 1222.5L-178.0 1221.2L-175.2 1220.2L-172.8 1220.6L-172.8 1218.0L-170.5 1218.9L-169.8 1217.9L-167.7 1216.9L-167.5 1214.8L-164.8 1213.6L-163.1 1211.8L-162.3 1209.2L-160.1 1208.0L-158.5 1207.7L-156.3 1207.4L-155.3 1206.3L-155.8 1203.7L-156.5 1201.7L-156.6 1198.4L-156.0 1197.2L-153.5 1195.6L-152.4 1195.1L-152.8 1199.0L-152.1 1199.9L-153.5 1202.0L-154.1 1203.4L-153.5 1204.9L-151.8 1205.2L-151.8 1206.3L-149.6 1205.7L-147.6 1204.9L-146.3 1206.6L-143.4 1205.4L-140.1 1204.0L-138.9 1205.2L-137.1 1205.0L-136.7 1204.3L-134.9 1202.5L-135.1 1198.1L-134.2 1195.9L-132.4 1195.1L-130.9 1197.5L-130.1 1197.5L-129.4 1194.4L-130.9 1191.8L-130.9 1190.5L-128.9 1189.5L-125.9 1189.2L-123.4 1189.5L-121.7 1188.2L-119.7 1188.1L-121.7 1187.2L-122.5 1185.9L-125.0 1186.2L-128.4 1187.2L-131.7 1188.4L-133.4 1186.6L-134.6 1184.5L-134.4 1181.0L-134.7 1177.4L-131.7 1173.7L-129.2 1170.6L-127.7 1169.4L-129.2 1166.6L-132.6 1166.6L-133.1 1167.4L-134.6 1171.0L-135.9 1174.4L-139.2 1177.8L-141.3 1179.9L-141.6 1184.5L-141.4 1185.5L-139.2 1187.2L-138.6 1188.6L-139.9 1190.2L-141.8 1192.5L-142.6 1195.9L-142.8 1198.4L-143.8 1200.2L-146.3 1202.0L-147.1 1202.3L-148.6 1202.3L-148.9 1200.5L-148.6 1198.7L-150.1 1195.3L-151.4 1191.5L-151.8 1190.8L-152.4 1188.2L-153.1 1191.2L-155.1 1193.1L-156.8 1194.0L-158.5 1194.4L-160.8 1191.8L-161.5 1188.2L-161.8 1184.5L-161.8 1181.0L-160.1 1178.9L-157.6 1177.0L-155.6 1174.8L-154.3 1174.8L-151.8 1170.2L-149.8 1167.4L-148.8 1164.1L-146.8 1160.8L-144.3 1157.3L-142.6 1154.5L-140.9 1151.8L-138.4 1149.4L-135.1 1147.5L-131.7 1145.0L-127.2 1142.4L-123.4 1143.0L-120.0 1145.5L-118.2 1146.0L-120.0 1148.9L-117.5 1149.4L-115.0 1150.8L-110.0 1152.2L-105.0 1156.8L-101.6 1161.6L-101.3 1164.1L-103.3 1165.4L-106.7 1165.4L-111.7 1163.7L-115.0 1162.9L-115.9 1161.2L-114.2 1165.0L-112.0 1169.8L-112.0 1171.8L-109.2 1173.7L-107.0 1174.1L-106.7 1171.8L-108.8 1169.8L-106.7 1169.8L-103.3 1171.4L-103.3 1167.8L-100.0 1163.7L-96.6 1164.5L-96.6 1157.3L-97.5 1154.5L-93.3 1157.3L-93.3 1162.5L-90.0 1158.6L-86.6 1156.8L-81.6 1153.6L-79.1 1155.9L-74.9 1154.5L-70.7 1153.2L-69.1 1148.9L-62.4 1151.3L-59.9 1153.6L-56.5 1155.9L-54.9 1153.2L-58.2 1149.9L-58.5 1147.9L-58.5 1141.9L-55.7 1137.7L-54.0 1132.2L-52.4 1129.3L-49.0 1132.2L-48.5 1137.7L-49.0 1147.9L-47.3 1155.0L-49.8 1161.6L-49.8 1164.5L-46.5 1157.3L-45.7 1147.9L-45.7 1137.7L-42.3 1136.6L-39.8 1135.5L-38.2 1140.4L-35.6 1145.5L-31.5 1146.5L-33.1 1138.8L-35.6 1129.3L-28.1 1126.3L-24.8 1120.1L-18.1 1115.4L-11.4 1112.7L-3.1 1109.9L4.1 1100.9L10.3 1108.5L17.0 1110.6L19.5 1116.1L13.6 1124.5L8.6 1131.0L13.6 1126.9L18.7 1127.5L22.0 1128.7L27.0 1131.0L35.4 1132.2L36.2 1131.0L40.4 1128.7L44.6 1130.4L46.2 1137.7L45.4 1143.0L50.4 1140.4L55.4 1139.8L60.4 1140.4L63.8 1135.5L64.9 1132.7L68.8 1134.4L73.8 1136.1L80.5 1139.8L83.8 1143.5L90.5 1143.0L95.5 1144.0L98.9 1149.9L103.9 1149.4L108.9 1149.9L113.9 1147.9L113.9 1152.7L115.6 1147.9L123.9 1148.9L130.6 1153.2L137.3 1158.1L143.2 1161.6L147.8 1165.4L143.2 1171.8L141.8 1172.1L134.0 1168.6L132.3 1164.5L131.5 1165.8L128.1 1171.0L126.4 1171.0L129.8 1179.2L122.3 1181.7L117.3 1184.5L114.7 1187.9L107.2 1187.2L103.9 1188.6L102.5 1192.8L100.5 1195.0L102.7 1199.9L100.2 1203.4L97.2 1208.5L94.9 1209.1L94.4 1211.8L91.7 1214.8L90.5 1210.5L89.7 1203.4L90.5 1197.5L92.2 1195.0L95.5 1192.8L99.7 1187.9L103.0 1182.8L103.9 1179.2L102.2 1179.2L97.2 1181.7L92.2 1182.4L88.8 1189.5L83.8 1191.2L81.8 1189.4L78.0 1189.9L73.0 1189.9L68.8 1190.2L64.6 1194.4L60.8 1199.0L55.9 1204.3L58.8 1206.3L61.3 1206.9L64.6 1207.7L66.0 1209.1L65.5 1212.4L64.6 1217.1L64.3 1221.0L61.3 1225.9L57.9 1229.9L55.4 1233.0L52.1 1234.6L50.4 1233.6L48.2 1235.7L46.7 1237.5L46.6 1239.0L43.1 1241.2L42.9 1242.5L44.4 1244.0L46.1 1247.2L46.1 1250.3L45.6 1251.1L43.7 1251.7L41.2 1252.5L41.1 1250.3L41.4 1247.2L41.4 1246.1L39.0 1245.5L38.7 1243.8L39.4 1241.6L37.7 1240.8L33.7 1242.7L33.0 1243.2L32.5 1241.9L34.2 1239.7L32.0 1238.8L29.5 1241.2L26.7 1242.5L27.9 1245.1L28.7 1246.5L31.7 1245.5L32.7 1246.1L34.9 1246.3L32.0 1248.2L30.9 1249.2L29.2 1251.3L31.2 1254.3L33.4 1257.7L33.5 1258.8L32.0 1260.4L31.2 1260.6L33.4 1261.4L33.0 1264.0L31.2 1266.9L29.7 1269.6L27.4 1271.5L24.8 1273.7L20.7 1275.5L18.7 1276.0L15.3 1277.1L14.2 1279.0L13.1 1277.1L11.1 1276.7L8.6 1277.8L8.1 1278.7L6.6 1281.3L8.0 1284.0L10.6 1286.4L12.3 1290.4L12.5 1293.5L10.3 1295.5L8.3 1296.3L8.1 1297.7L5.3 1299.2L5.1 1297.2L4.5 1296.2L2.8 1295.8L2.0 1294.7L0.8 1293.1L-1.4 1292.3L-1.6 1291.1L-2.2 1290.9L-3.1 1291.2L-3.1 1293.5L-4.2 1296.0L-3.9 1298.2L-2.6 1299.7L-2.1 1301.6L-0.2 1302.6L0.8 1303.3L2.6 1305.6L2.8 1307.8L4.0 1311.3L2.6 1311.1L-0.7 1308.8L-2.1 1306.6L-2.6 1304.4L-2.9 1302.7L-4.7 1300.6L-5.9 1300.2L-5.4 1296.9L-5.4 1293.5L-6.4 1290.0L-6.9 1286.6L-7.1 1285.7L-8.4 1284.5L-9.7 1286.1L-11.4 1286.9L-12.6 1286.6L-12.3 1284.0L-13.4 1280.5L-14.9 1279.4L-15.9 1277.8L-16.6 1275.5L-18.4 1275.1L-19.8 1276.2L-21.4 1276.6L-23.1 1276.6L-24.8 1277.3L-25.1 1278.7L-25.8 1279.6L-28.1 1280.6L-29.8 1282.6L-32.6 1284.9L-34.5 1286.8L-36.1 1287.5L-36.3 1290.9L-36.0 1291.6L-36.8 1294.3L-36.6 1296.3L-38.2 1298.0L-39.5 1298.9L-40.7 1300.1L-42.3 1298.5L-42.8 1296.9L-44.0 1294.0L-45.2 1291.8L-46.5 1288.3L-47.3 1286.6L-48.2 1283.1L-48.5 1281.3L-48.7 1278.7L-48.8 1276.9L-49.0 1275.7L-51.5 1278.2L-51.7 1278.3L-54.5 1275.7L-54.9 1275.5L-52.7 1274.2L-55.7 1273.7L-56.2 1272.9L-57.4 1272.4L-58.2 1270.9L-59.0 1269.6L-62.4 1270.0L-66.6 1270.2L-67.2 1270.2L-71.6 1269.8L-74.4 1269.1L-75.2 1266.7L-76.1 1266.5L-79.1 1267.6L-81.6 1266.9L-84.1 1265.2L-85.3 1263.1L-86.6 1260.8L-88.3 1260.2L-89.1 1261.2L-90.0 1262.1L-89.3 1264.0L-88.3 1265.9L-86.6 1267.4L-86.3 1269.5L-85.3 1270.9L-84.6 1268.5L-83.9 1270.6L-84.4 1271.8L-82.4 1272.0L-79.9 1272.0L-77.8 1270.0L-76.4 1268.5L-75.9 1268.2L-75.9 1270.7L-74.9 1272.4L-72.2 1273.1L-70.2 1275.1L-72.4 1278.7L-73.6 1281.3L-75.7 1283.1L-78.3 1284.9L-79.9 1284.9L-82.9 1286.2L-86.6 1288.3L-90.0 1290.0L-95.0 1292.1L-97.5 1292.3L-98.3 1290.0L-98.6 1287.5L-99.1 1285.2L-100.8 1282.2L-103.3 1279.0L-104.8 1276.9L-105.8 1273.3L-108.0 1270.6L-110.0 1267.4L-111.7 1265.0L-111.8 1262.1L-112.8 1265.0L-113.0 1265.4L-114.5 1263.8L-115.7 1261.4L-115.9 1261.2L-116.2 1258.6L-114.2 1259.0L-112.8 1258.6L-111.8 1256.3L-111.3 1254.7L-110.3 1252.3L-110.2 1250.3L-110.0 1248.6L-109.7 1248.0L-111.7 1248.0L-113.3 1248.6L-115.9 1249.0L-118.4 1247.6L-118.9 1247.4L-120.9 1248.8L-123.4 1247.8L-124.5 1247.2L-125.0 1245.1L-125.9 1244.0L-125.0 1244.2L-125.9 1242.3L-126.4 1240.8L-125.5 1239.9L-124.2 1239.9L-121.7 1239.9L-121.7 1238.6L-120.0 1238.3L-117.5 1238.1L-115.0 1236.4L-111.7 1236.4L-109.2 1237.9L-106.7 1238.6L-103.3 1238.6L-100.8 1237.5L-100.8 1235.2L-103.3 1233.2L-103.8 1232.7L-106.7 1230.6L-108.3 1229.5L-108.7 1228.8L-107.0 1227.1L-106.2 1225.2L-104.5 1224.4L-107.5 1224.7L-110.8 1225.9L-111.7 1226.9L-111.7 1227.8L-109.2 1228.5L-110.8 1229.5L-113.0 1230.6L-114.3 1230.6L-115.9 1228.5L-114.0 1227.1L-116.7 1226.6L-118.4 1225.6L-118.9 1225.9L-120.5 1228.8L-122.2 1231.8L-123.4 1234.1L-124.2 1235.2L-123.2 1236.6L-122.5 1237.7L-121.7 1238.1L-123.4 1238.6L-125.0 1239.2L-126.4 1240.1L-126.7 1239.0L-128.4 1238.8L-130.1 1239.2L-130.1 1240.8L-131.7 1240.1L-131.9 1239.5L-132.2 1241.2L-131.4 1242.9L-130.1 1245.1L-130.6 1245.3L-131.7 1246.1L-131.4 1248.0L-132.6 1248.4L-133.9 1247.6L-134.6 1245.7L-134.6 1244.4L-132.6 1244.6L-134.6 1244.2L-135.6 1243.2L-136.4 1241.6L-137.7 1239.9L-137.6 1237.5L-138.1 1236.4L-139.2 1235.2L-139.9 1234.9L-142.6 1233.0L-144.8 1231.3L-145.9 1229.0L-146.9 1229.9L-147.4 1228.0L-149.4 1228.5L-149.6 1231.1L-147.4 1233.0L-146.4 1235.2L-143.1 1236.6L-143.4 1237.7L-141.8 1238.6L-139.2 1240.6L-139.2 1241.2L-141.8 1239.7L-142.4 1241.4L-141.6 1242.9L-142.6 1244.2L-143.9 1245.3L-143.6 1243.6L-143.3 1242.9L-143.8 1241.9L-144.6 1240.8L-145.4 1239.5L-146.3 1239.0L-148.4 1238.0L-149.8 1236.9L-151.8 1235.2L-152.6 1234.1L-152.9 1232.7L-153.8 1231.6L-155.3 1230.9L-156.8 1232.0L-157.6 1232.3L-159.3 1233.6L-161.1 1233.4L-163.5 1233.0L-165.0 1233.9L-165.0 1235.5L-164.8 1236.6L-166.5 1237.7L-168.8 1239.0L-170.7 1241.9L-169.8 1243.4L-171.0 1244.4L-171.5 1245.9L-173.5 1247.6L-177.5 1247.8L-179.1 1249.0L-180.2 1248.8L-180.9 1247.4L-182.5 1246.7Z" fill="#e8f4fd" stroke="#c4d4e0" stroke-width="0.7" stroke-linejoin="round"/><path d="M128.4 1143.0L133.1 1144.0L134.8 1141.4L130.6 1139.8Z" fill="#e8f4fd" stroke="#c4d4e0" stroke-width="0.7" stroke-linejoin="round"/></g><path d="M510.8 1234.1L509.9 1230.6L511.6 1227.1L514.1 1225.9L517.5 1225.2L520.0 1225.9L519.1 1228.5L516.6 1230.4L515.5 1231.1L517.5 1233.4L519.1 1234.8L519.5 1237.5L521.3 1239.0L520.0 1241.9L521.3 1246.1L520.0 1247.4L516.6 1247.8L514.1 1246.3L513.1 1244.2L513.8 1242.1L514.1 1239.7L512.4 1236.8Z" fill="#fff" stroke="#c4d4e0" stroke-width="0.7" stroke-linejoin="round"/><path d="M421.9 1217.0L424.7 1216.3L426.4 1215.3L428.9 1215.3L431.9 1215.2L433.7 1214.0L432.7 1213.2L434.2 1210.2L431.9 1209.1L431.6 1207.4L431.1 1205.2L428.9 1203.4L428.1 1200.8L426.4 1200.5L427.2 1199.0L428.1 1195.6L425.6 1195.3L424.7 1195.6L426.1 1192.5L423.0 1192.5L421.7 1195.9L421.0 1198.7L422.2 1200.5L422.7 1203.4L423.9 1204.0L425.6 1203.7L426.4 1206.3L426.2 1208.3L423.9 1208.3L424.4 1209.6L424.5 1211.0L422.7 1212.1L423.9 1212.9L426.4 1213.2L425.6 1214.0L423.9 1214.2ZM421.4 1211.3L421.4 1208.0L422.2 1205.2L421.0 1202.8L418.9 1202.5L417.2 1204.3L414.7 1205.7L415.0 1208.3L415.5 1209.9L414.2 1211.8L415.5 1213.2L418.0 1212.4L419.7 1211.6ZM393.8 1174.1L398.0 1175.6L401.3 1175.7L406.3 1172.5L408.7 1169.8L406.7 1165.8L403.8 1163.7L400.5 1165.4L397.1 1165.4L393.8 1163.9L391.3 1167.4L394.6 1168.6L391.3 1170.2L394.6 1172.1ZM517.5 1139.3L520.8 1144.0L526.6 1145.0L525.0 1137.7L524.1 1131.0L527.5 1123.2L533.3 1116.8L541.7 1109.9L545.9 1106.3L542.5 1113.4L533.3 1112.0L526.6 1118.1L522.5 1127.5L520.0 1135.0ZM509.9 1079.1L518.3 1082.0L528.3 1079.1L535.0 1073.1L526.6 1065.5L514.9 1073.1ZM591.0 1090.2L598.5 1098.6L606.0 1096.1L603.5 1087.5L596.8 1083.0ZM585.1 1082.0L591.8 1081.1L596.8 1073.1L590.1 1068.8L584.3 1076.1ZM661.2 1118.1L667.0 1122.0L672.9 1120.1L670.4 1113.4L662.8 1112.7ZM676.2 1119.4L682.9 1121.3L682.0 1116.8L677.0 1116.8ZM665.3 1129.9L670.4 1130.4L669.5 1127.2L666.2 1126.9ZM512.1 1152.7L514.6 1154.1L515.5 1151.3L513.3 1150.4ZM668.7 1227.1L671.2 1225.2L670.2 1222.7L670.7 1219.2L672.9 1219.2L670.9 1214.5L670.9 1210.5L669.9 1205.4L668.7 1207.7L668.3 1212.4L669.0 1217.1L668.7 1221.0L668.5 1224.7ZM665.3 1237.5L667.3 1236.8L670.9 1236.4L674.5 1233.4L674.2 1231.3L670.4 1231.1L668.2 1228.5L668.0 1233.0L665.8 1233.6L665.3 1235.7ZM666.8 1237.7L667.8 1239.7L668.7 1241.9L667.8 1244.4L667.0 1247.2L666.8 1249.2L665.3 1250.9L664.5 1250.9L663.3 1251.9L661.2 1252.1L660.2 1252.5L659.2 1254.3L657.2 1254.3L657.3 1252.3L655.3 1252.1L652.8 1252.9L650.3 1253.3L650.3 1252.3L652.8 1250.3L655.3 1250.1L658.3 1250.1L659.8 1247.8L660.8 1246.1L662.8 1246.5L664.5 1244.0L665.3 1241.2L665.3 1239.2ZM652.8 1255.3L653.6 1253.5L656.3 1252.9L655.6 1254.7L654.1 1254.5ZM649.0 1258.6L650.3 1258.5L651.6 1255.7L651.1 1254.1L649.1 1254.1L648.1 1255.3L649.1 1256.3ZM633.3 1276.0L634.4 1274.2L635.1 1270.6L633.6 1270.6L632.1 1273.3ZM613.0 1281.0L614.5 1282.8L616.0 1281.7L616.9 1280.1L615.2 1279.4L613.5 1279.9ZM564.9 1297.4L566.6 1299.4L568.1 1301.2L567.6 1302.9L565.9 1303.7L564.9 1302.2L564.7 1299.9ZM452.3 1245.1L454.0 1244.7L457.5 1244.6L456.6 1247.2L456.5 1247.8L454.0 1246.7L452.3 1245.9ZM445.1 1242.7L445.4 1239.0L446.8 1238.1L447.6 1239.5L447.4 1242.5L446.4 1242.9ZM445.8 1236.8L445.9 1235.0L447.1 1234.1L447.3 1236.4L446.8 1237.7ZM470.7 1250.7L472.3 1250.5L475.3 1250.9L474.0 1251.4L470.8 1250.9ZM485.4 1251.3L486.5 1250.6L489.2 1250.0L488.0 1251.3L486.5 1252.1ZM449.8 1202.5L452.3 1200.5L452.3 1202.8L451.1 1203.7ZM447.8 1202.8L449.3 1202.0L449.3 1203.4ZM461.8 1197.5L463.1 1194.7L462.8 1196.5ZM468.0 1193.4L469.8 1192.5L469.8 1193.4L468.5 1194.4ZM435.4 1241.9L436.7 1241.0L436.9 1242.1ZM470.2 1243.2L472.3 1245.1L471.5 1244.0ZM453.1 1157.3L457.3 1155.0L457.8 1153.2L454.8 1155.5Z" fill="#e8f4fd" stroke="#c4d4e0" stroke-width="0.7" stroke-linejoin="round"/><path d="M449.8 1094.5L454.8 1102.5L459.0 1109.2L462.3 1102.5L467.3 1096.9L463.1 1090.2L469.8 1086.6L476.5 1080.1L468.2 1076.1L459.8 1081.1L454.0 1083.0ZM467.3 1101.7L472.3 1103.3L469.8 1096.1Z" fill="#f3f3f3" stroke="#d8dde2" stroke-width="0.7" stroke-linejoin="round"/><path d="M421.5 1249.6L422.5 1249.4L426.4 1250.7L428.1 1251.1L429.7 1249.9L431.4 1249.4L433.9 1248.2L436.4 1247.6L439.8 1247.6L443.1 1247.0L445.6 1247.4L447.8 1246.5L448.6 1247.4L449.8 1247.2L448.9 1248.4L449.1 1249.6L449.8 1250.9L448.4 1252.7L448.3 1253.5L449.9 1254.9L450.6 1254.9L452.3 1255.7L453.5 1255.5L456.5 1256.5L457.3 1258.3L459.8 1259.4L462.3 1260.6L464.0 1260.4L464.8 1259.2L464.8 1257.3L467.3 1255.5L469.8 1256.1L473.2 1258.1L476.5 1258.5L479.9 1259.4L482.4 1258.3L484.9 1258.6L485.4 1258.6L485.7 1261.2L485.9 1261.4L486.2 1263.3L487.0 1265.0L487.9 1266.3L489.0 1269.1L490.7 1272.4L491.1 1274.2L493.1 1276.0L493.6 1277.8L493.6 1280.3L494.1 1282.2L495.7 1283.1L497.4 1287.3L499.1 1288.7L500.7 1290.4L502.4 1291.8L503.8 1292.6L503.4 1294.1L504.9 1296.0L506.6 1296.2L509.9 1295.0L513.3 1294.7L517.0 1293.7L516.8 1296.0L515.8 1298.5L514.1 1301.9L512.4 1305.3L509.9 1308.1L507.1 1310.3L504.9 1311.9L502.4 1314.1L500.9 1316.4L499.1 1317.8L498.2 1319.4L497.7 1320.4L496.2 1323.6L497.1 1325.0L497.4 1327.8L498.2 1330.3L499.1 1331.2L499.2 1334.6L499.4 1338.0L498.2 1341.1L495.7 1342.9L493.1 1344.1L490.7 1346.7L489.7 1347.3L490.4 1350.3L490.7 1353.9L490.2 1356.1L486.5 1358.1L485.9 1358.5L486.4 1361.3L485.5 1363.7L483.2 1365.8L481.5 1368.6L479.0 1371.5L476.5 1373.3L474.3 1373.9L471.5 1374.1L468.2 1374.3L464.8 1375.5L462.3 1374.5L462.0 1371.9L461.5 1369.9L460.3 1367.0L459.0 1363.4L457.0 1360.3L456.1 1356.6L455.6 1353.0L454.0 1349.4L452.3 1345.9L451.1 1342.9L451.1 1340.3L452.3 1337.2L454.0 1334.3L454.5 1331.2L453.5 1328.3L452.0 1323.8L451.5 1321.9L450.1 1320.3L448.1 1318.1L446.4 1315.3L445.9 1314.8L447.3 1313.3L447.4 1311.9L447.8 1309.8L447.6 1308.1L447.3 1307.1L445.9 1306.1L443.9 1306.3L441.4 1306.4L439.8 1304.4L438.1 1303.1L435.9 1302.9L433.4 1303.4L431.4 1304.1L429.7 1304.9L428.1 1305.6L426.2 1305.1L423.9 1304.9L421.4 1305.6L418.9 1306.3L416.4 1305.3L413.4 1303.1L411.3 1301.4L409.3 1299.4L408.5 1297.7L406.7 1295.5L405.5 1294.3L403.5 1292.8L403.3 1291.2L402.2 1288.8L403.8 1286.6L404.2 1284.0L404.5 1281.3L403.8 1280.5L402.9 1278.2L403.2 1276.4L404.2 1274.2L405.0 1272.4L406.5 1270.6L407.2 1268.3L408.8 1266.5L409.8 1265.1L412.2 1264.0L414.4 1262.5L415.4 1260.4L415.0 1258.3L415.9 1256.3L418.0 1254.3L420.0 1253.3L421.0 1250.9Z" fill="#e8f4fd" stroke="#c4d4e0" stroke-width="0.7" stroke-linejoin="round"/><path d="M513.8 1333.7L515.3 1337.2L515.8 1339.7L514.4 1341.5L513.9 1344.1L512.9 1347.6L511.6 1351.2L510.3 1355.7L508.3 1357.2L506.8 1357.6L504.9 1356.6L504.1 1353.9L503.8 1351.2L505.4 1348.2L505.8 1345.9L504.9 1344.1L505.4 1341.5L507.4 1340.4L509.1 1339.9L510.8 1338.5L511.6 1336.5L512.9 1334.6Z" fill="#e8f4fd" stroke="#c4d4e0" stroke-width="0.7" stroke-linejoin="round"/><path d="M427.7 1251.1L428.6 1253.9L429.4 1256.9L426.4 1257.9L425.4 1259.8L422.5 1261.4L419.7 1261.9L416.9 1263.7L416.9 1266.3L423.3 1270.6L433.4 1277.6L434.4 1279.0L436.7 1279.9L436.9 1281.3L438.5 1281.1L443.9 1278.2L451.5 1273.3L448.1 1271.5L447.6 1268.2L447.9 1265.0L447.3 1260.6L446.4 1257.1L443.9 1253.7L445.1 1251.3L445.8 1247.4L443.1 1247.0L439.8 1247.6L436.4 1247.6L433.9 1248.2L431.4 1249.4L429.7 1249.9L428.1 1251.1Z" fill="#dcecfb" stroke="#c4d4e0" stroke-width="0.7" stroke-linejoin="round"/><path d="M416.9 1265.6L416.9 1268.7L411.3 1268.7L411.3 1273.4L409.7 1274.4L409.7 1277.2L403.1 1277.2L402.9 1278.2L403.2 1276.4L404.2 1274.2L405.0 1272.4L406.5 1270.6L407.2 1268.3L408.8 1266.5L409.4 1265.6Z" fill="#f3f3f3" stroke="#d8dde2" stroke-width="0.7" stroke-linejoin="round"/><path d="M447.4 1311.9L450.3 1311.9L450.3 1309.9L447.8 1309.8Z" fill="#f3f3f3" stroke="#d8dde2" stroke-width="0.7" stroke-linejoin="round"/><path d="M423.3 1270.6L420.4 1270.6L422.5 1286.0L422.0 1287.5L415.9 1287.5L413.5 1287.6L412.2 1287.3L411.0 1288.7" fill="none" stroke="#c4d4e0" stroke-width="0.7" stroke-linejoin="round"/><path d="M450.6 1254.9L448.6 1257.9L447.3 1260.6" fill="none" stroke="#c4d4e0" stroke-width="0.7" stroke-linejoin="round"/><path d="M473.2 1258.1L473.2 1276.0" fill="none" stroke="#c4d4e0" stroke-width="0.7" stroke-linejoin="round"/><path d="M451.5 1273.3L455.1 1274.9L456.5 1274.2L458.1 1273.4L471.5 1280.5L471.5 1279.6L473.2 1279.6L473.2 1276.0L493.1 1276.0" fill="none" stroke="#c4d4e0" stroke-width="0.7" stroke-linejoin="round"/><path d="M471.5 1280.5L471.5 1287.1L469.7 1287.5L468.2 1291.8L469.0 1295.2L470.8 1298.5" fill="none" stroke="#c4d4e0" stroke-width="0.7" stroke-linejoin="round"/><path d="M456.5 1274.2L457.3 1277.8L457.3 1285.0L454.1 1290.6" fill="none" stroke="#c4d4e0" stroke-width="0.7" stroke-linejoin="round"/><path d="M454.1 1290.6L451.5 1291.4L447.3 1292.1L443.1 1291.6L438.1 1290.9L437.4 1294.0" fill="none" stroke="#c4d4e0" stroke-width="0.7" stroke-linejoin="round"/><path d="M438.5 1281.1L438.4 1285.7L437.2 1287.6L433.1 1288.3L431.7 1288.5" fill="none" stroke="#c4d4e0" stroke-width="0.7" stroke-linejoin="round"/><path d="M431.7 1288.5L431.9 1290.6L433.1 1291.8L435.1 1292.8L435.4 1293.6L437.4 1294.0" fill="none" stroke="#c4d4e0" stroke-width="0.7" stroke-linejoin="round"/><path d="M431.7 1288.5L428.1 1289.7L424.7 1291.1L422.7 1293.8L422.2 1296.2" fill="none" stroke="#c4d4e0" stroke-width="0.7" stroke-linejoin="round"/><path d="M411.0 1288.7L412.4 1292.8L413.5 1293.6L417.5 1295.2L418.0 1296.5L421.0 1296.0L422.2 1296.2" fill="none" stroke="#c4d4e0" stroke-width="0.7" stroke-linejoin="round"/><path d="M403.8 1286.6L407.2 1285.5L409.2 1286.6L411.0 1288.7" fill="none" stroke="#c4d4e0" stroke-width="0.7" stroke-linejoin="round"/><path d="M403.5 1292.9L406.3 1292.4L408.5 1292.4L408.5 1294.0L406.3 1295.3" fill="none" stroke="#c4d4e0" stroke-width="0.7" stroke-linejoin="round"/><path d="M408.5 1292.4L412.4 1292.8" fill="none" stroke="#c4d4e0" stroke-width="0.7" stroke-linejoin="round"/><path d="M403.3 1290.9L406.3 1290.5L408.3 1290.9L406.3 1291.2L403.3 1291.5" fill="none" stroke="#c4d4e0" stroke-width="0.7" stroke-linejoin="round"/><path d="M409.2 1298.5L410.5 1297.0L413.0 1296.9L414.2 1299.4L412.2 1302.1" fill="none" stroke="#c4d4e0" stroke-width="0.7" stroke-linejoin="round"/><path d="M414.2 1299.4L415.9 1301.2L417.2 1300.9L417.5 1302.7L418.9 1303.9L418.9 1306.3" fill="none" stroke="#c4d4e0" stroke-width="0.7" stroke-linejoin="round"/><path d="M417.2 1300.9L418.5 1299.6L418.0 1296.5" fill="none" stroke="#c4d4e0" stroke-width="0.7" stroke-linejoin="round"/><path d="M426.2 1305.1L426.7 1301.9L426.9 1297.7L426.7 1295.2L431.4 1295.0L432.9 1295.2" fill="none" stroke="#c4d4e0" stroke-width="0.7" stroke-linejoin="round"/><path d="M422.2 1296.2L423.9 1297.4L426.9 1297.7" fill="none" stroke="#c4d4e0" stroke-width="0.7" stroke-linejoin="round"/><path d="M433.4 1303.4L432.4 1300.2L431.4 1295.0" fill="none" stroke="#c4d4e0" stroke-width="0.7" stroke-linejoin="round"/><path d="M434.1 1303.3L434.1 1298.5L432.9 1295.2L435.4 1293.6" fill="none" stroke="#c4d4e0" stroke-width="0.7" stroke-linejoin="round"/><path d="M435.9 1302.9L436.1 1298.5L437.4 1294.0" fill="none" stroke="#c4d4e0" stroke-width="0.7" stroke-linejoin="round"/><path d="M445.8 1305.9L447.3 1302.7L450.6 1301.9L452.3 1299.2L454.5 1295.2L455.1 1292.6L455.0 1291.6L454.1 1290.6" fill="none" stroke="#c4d4e0" stroke-width="0.7" stroke-linejoin="round"/><path d="M455.0 1291.6L456.5 1293.5L457.3 1296.9L454.8 1296.9L457.3 1301.1" fill="none" stroke="#c4d4e0" stroke-width="0.7" stroke-linejoin="round"/><path d="M457.3 1301.1L455.6 1303.6L456.5 1306.9L458.3 1309.9" fill="none" stroke="#c4d4e0" stroke-width="0.7" stroke-linejoin="round"/><path d="M447.8 1309.8L450.3 1309.9L453.6 1309.9L458.3 1309.9" fill="none" stroke="#c4d4e0" stroke-width="0.7" stroke-linejoin="round"/><path d="M457.3 1301.1L462.5 1300.2L466.5 1297.7L469.0 1295.2" fill="none" stroke="#c4d4e0" stroke-width="0.7" stroke-linejoin="round"/><path d="M470.8 1298.5L472.3 1299.9L477.2 1305.1L473.2 1305.3L469.0 1306.8L465.7 1306.3L462.5 1307.8L459.1 1307.8L458.3 1309.9" fill="none" stroke="#c4d4e0" stroke-width="0.7" stroke-linejoin="round"/><path d="M462.5 1307.8L461.3 1311.9L461.0 1314.6L458.5 1317.3L458.0 1320.1L455.5 1321.8L453.1 1321.4L452.0 1323.1" fill="none" stroke="#c4d4e0" stroke-width="0.7" stroke-linejoin="round"/><path d="M453.6 1309.9L453.6 1311.4L455.5 1311.4L455.6 1314.4L454.6 1317.6L452.3 1318.6L450.1 1320.3" fill="none" stroke="#c4d4e0" stroke-width="0.7" stroke-linejoin="round"/><path d="M471.5 1299.0L475.7 1297.7L478.2 1297.9L481.5 1296.5L484.9 1293.5L486.9 1293.1L486.5 1296.5L488.4 1297.7" fill="none" stroke="#c4d4e0" stroke-width="0.7" stroke-linejoin="round"/><path d="M488.4 1297.7L489.9 1295.2L491.7 1292.3L492.4 1289.5L492.2 1288.1L493.2 1284.7L495.9 1283.1" fill="none" stroke="#c4d4e0" stroke-width="0.7" stroke-linejoin="round"/><path d="M492.4 1289.5L494.7 1288.5L496.6 1289.0L499.6 1289.7L502.3 1292.6L503.4 1292.3" fill="none" stroke="#c4d4e0" stroke-width="0.7" stroke-linejoin="round"/><path d="M502.3 1292.6L501.2 1295.2L503.1 1295.2L503.8 1294.3" fill="none" stroke="#c4d4e0" stroke-width="0.7" stroke-linejoin="round"/><path d="M503.1 1295.2L504.9 1298.5L509.9 1300.2L511.6 1300.2L506.6 1305.3L503.3 1305.9L501.4 1307.0" fill="none" stroke="#c4d4e0" stroke-width="0.7" stroke-linejoin="round"/><path d="M501.4 1307.0L499.6 1306.6L497.4 1307.9L495.1 1307.6L493.1 1306.3L491.4 1305.9L490.4 1304.6L488.2 1302.7L486.5 1300.6L488.4 1299.2L488.4 1297.7" fill="none" stroke="#c4d4e0" stroke-width="0.7" stroke-linejoin="round"/><path d="M501.4 1307.0L499.9 1308.9L499.9 1313.6L500.9 1316.4" fill="none" stroke="#c4d4e0" stroke-width="0.7" stroke-linejoin="round"/><path d="M491.4 1305.9L488.2 1306.6L489.7 1309.4L489.0 1311.8L488.2 1313.3L488.0 1315.3" fill="none" stroke="#c4d4e0" stroke-width="0.7" stroke-linejoin="round"/><path d="M488.2 1306.6L484.9 1307.6L483.0 1307.8L480.7 1306.1L477.2 1305.1" fill="none" stroke="#c4d4e0" stroke-width="0.7" stroke-linejoin="round"/><path d="M488.0 1315.3L494.2 1318.6L494.6 1319.6L496.9 1321.4" fill="none" stroke="#c4d4e0" stroke-width="0.7" stroke-linejoin="round"/><path d="M483.0 1307.8L483.7 1309.9L481.5 1312.3L480.9 1314.4L480.9 1315.9L479.9 1318.1L480.2 1319.1L480.5 1321.1L480.9 1323.6L482.7 1327.3" fill="none" stroke="#c4d4e0" stroke-width="0.7" stroke-linejoin="round"/><path d="M480.9 1315.9L482.4 1315.3L488.0 1315.3" fill="none" stroke="#c4d4e0" stroke-width="0.7" stroke-linejoin="round"/><path d="M479.9 1318.1L482.4 1317.6L482.9 1315.3" fill="none" stroke="#c4d4e0" stroke-width="0.7" stroke-linejoin="round"/><path d="M480.2 1319.1L482.4 1317.6L482.9 1319.1L481.2 1320.9" fill="none" stroke="#c4d4e0" stroke-width="0.7" stroke-linejoin="round"/><path d="M482.7 1327.3L486.4 1329.3L488.2 1329.5L489.7 1333.1L494.1 1333.2L499.1 1331.2" fill="none" stroke="#c4d4e0" stroke-width="0.7" stroke-linejoin="round"/><path d="M452.0 1323.6L453.8 1323.4L459.1 1323.4L459.8 1325.6L463.8 1327.0L465.7 1325.8L467.8 1325.8L468.0 1329.5L468.7 1332.4L471.5 1331.9L471.5 1335.4L468.2 1335.4" fill="none" stroke="#c4d4e0" stroke-width="0.7" stroke-linejoin="round"/><path d="M471.5 1331.9L473.7 1332.4L476.5 1333.7L478.9 1334.6L479.9 1336.1L481.2 1336.1L481.2 1334.1L478.9 1333.4L479.2 1329.2L479.7 1327.8L482.7 1327.3" fill="none" stroke="#c4d4e0" stroke-width="0.7" stroke-linejoin="round"/><path d="M468.2 1335.4L468.2 1341.0L470.5 1343.4" fill="none" stroke="#c4d4e0" stroke-width="0.7" stroke-linejoin="round"/><path d="M451.1 1342.9L454.8 1343.0L462.3 1343.0L470.5 1343.4L473.7 1343.7" fill="none" stroke="#c4d4e0" stroke-width="0.7" stroke-linejoin="round"/><path d="M466.5 1344.6L466.5 1351.2L464.8 1351.2L464.8 1363.0L460.5 1363.5L459.0 1363.4" fill="none" stroke="#c4d4e0" stroke-width="0.7" stroke-linejoin="round"/><path d="M466.5 1344.6L470.5 1344.1L473.7 1343.7" fill="none" stroke="#c4d4e0" stroke-width="0.7" stroke-linejoin="round"/><path d="M464.8 1356.3L466.2 1360.0L469.3 1357.4L474.0 1357.9L476.3 1354.8L480.5 1351.5" fill="none" stroke="#c4d4e0" stroke-width="0.7" stroke-linejoin="round"/><path d="M473.7 1343.7L476.5 1344.1L479.7 1340.4L482.2 1339.9L481.9 1338.5L486.5 1337.2" fill="none" stroke="#c4d4e0" stroke-width="0.7" stroke-linejoin="round"/><path d="M486.5 1337.2L486.9 1334.6L487.0 1331.7L486.4 1329.3" fill="none" stroke="#c4d4e0" stroke-width="0.7" stroke-linejoin="round"/><path d="M473.7 1343.7L477.5 1348.5L480.5 1351.5L483.7 1351.9" fill="none" stroke="#c4d4e0" stroke-width="0.7" stroke-linejoin="round"/><path d="M482.2 1339.9L486.4 1341.8L486.5 1344.1L486.0 1348.5L483.7 1351.9" fill="none" stroke="#c4d4e0" stroke-width="0.7" stroke-linejoin="round"/><path d="M483.7 1351.9L484.9 1355.7L484.7 1358.3L485.0 1360.0L486.4 1360.2" fill="none" stroke="#c4d4e0" stroke-width="0.7" stroke-linejoin="round"/><path d="M484.7 1358.3L483.2 1358.5L482.9 1360.0L483.9 1360.9L485.0 1360.0" fill="none" stroke="#c4d4e0" stroke-width="0.7" stroke-linejoin="round"/><path d="M476.5 1365.3L478.2 1363.7L480.4 1364.7L479.7 1366.2L478.2 1367.2L476.9 1366.4L476.5 1365.3" fill="none" stroke="#c4d4e0" stroke-width="0.7" stroke-linejoin="round"/><path d="M486.5 1337.2L489.0 1337.8L491.4 1338.7L490.4 1342.5L488.9 1341.0L489.2 1338.2" fill="none" stroke="#c4d4e0" stroke-width="0.7" stroke-linejoin="round"/><path d="M489.7 1333.1L489.2 1334.6L489.2 1337.8" fill="none" stroke="#c4d4e0" stroke-width="0.7" stroke-linejoin="round"/><path d="M578.1 1219.2L581.8 1217.1L585.1 1215.3L589.3 1217.1L594.3 1217.6L596.0 1211.8L601.8 1213.4L603.5 1216.3L609.4 1216.3L612.7 1218.7L616.9 1218.9L622.7 1216.6L626.4 1217.6L624.4 1222.2L627.7 1223.0L631.6 1225.4L627.7 1225.9L625.2 1228.0L621.9 1229.7L618.2 1229.5L617.7 1232.7L615.2 1235.0L611.0 1235.5L606.9 1237.3L599.3 1235.0L592.7 1234.8L591.0 1231.8L587.6 1229.5L583.5 1229.0L583.0 1225.9L583.5 1224.7L579.3 1221.7Z" fill="#dfeefc" stroke="#c4d4e0" stroke-width="0.7" stroke-linejoin="round"/><path d="M534.3 1270.2L530.0 1269.8L527.1 1269.1L526.3 1266.7L525.5 1266.5L522.5 1267.6L520.0 1266.9L517.5 1265.2L516.3 1263.1L514.9 1260.8L513.3 1260.2L512.4 1261.2L511.1 1259.2L511.3 1257.3L508.6 1254.9L507.4 1252.3L508.3 1249.6L506.3 1246.7L504.9 1242.1L506.3 1241.4L509.1 1243.2L511.6 1241.6L513.1 1244.2L514.1 1246.3L516.6 1247.8L520.0 1247.4L521.5 1246.5L523.0 1246.3L525.0 1244.9L527.0 1244.4L529.2 1245.7L531.7 1247.8L533.7 1248.0L533.7 1250.1L532.5 1252.3L532.7 1255.3L533.0 1258.3L534.7 1259.2L533.2 1261.5L535.8 1262.3L537.2 1266.5L536.3 1267.6ZM521.5 1246.5L521.3 1246.1L520.0 1241.9L521.3 1239.0L519.5 1237.5L521.6 1235.7L524.1 1237.9L526.6 1237.9L528.3 1235.2L531.7 1235.9L531.8 1237.7L534.8 1238.4L535.8 1240.8L539.2 1243.2L542.5 1246.3L541.2 1246.1L539.2 1248.6L537.0 1249.5L535.5 1250.7L533.7 1250.1L533.7 1248.0L531.7 1247.8L529.2 1245.7L527.0 1244.4L525.0 1244.9L523.0 1246.3ZM491.4 1252.0L491.4 1249.4L492.7 1247.6L494.9 1247.6L498.2 1247.4L502.1 1246.7L500.2 1248.8L500.4 1250.1L499.9 1252.5L496.2 1254.5L492.9 1256.7L491.2 1255.9L491.2 1254.7L492.4 1253.3L492.2 1252.1ZM639.3 1240.8L641.9 1238.6L643.4 1236.8L645.3 1237.5L645.8 1236.4L648.1 1235.5L649.8 1235.7L648.3 1237.5L648.1 1239.0L644.6 1241.2L644.5 1242.5L646.0 1243.8L643.6 1244.6L642.1 1245.5L640.6 1245.5L640.3 1243.8L640.9 1241.6Z" fill="#f3f3f3" stroke="#d5dbe1" stroke-width="0.7" stroke-linejoin="round"/><path d="M502.1 1246.7L506.3 1246.7" fill="none" stroke="#c4d4e0" stroke-width="0.7" stroke-linejoin="round"/><path d="M506.3 1241.4L504.4 1240.6L504.1 1238.4L502.4 1237.5L500.7 1237.5" fill="none" stroke="#c4d4e0" stroke-width="0.7" stroke-linejoin="round"/><path d="M498.2 1233.2L502.4 1233.6L505.8 1234.8L509.1 1236.6L511.3 1238.1L512.6 1236.8" fill="none" stroke="#c4d4e0" stroke-width="0.7" stroke-linejoin="round"/><path d="M509.1 1236.6L509.1 1238.4L506.6 1237.9L504.1 1238.4" fill="none" stroke="#c4d4e0" stroke-width="0.7" stroke-linejoin="round"/><path d="M506.6 1237.9L509.1 1241.9L509.1 1243.2" fill="none" stroke="#c4d4e0" stroke-width="0.7" stroke-linejoin="round"/><path d="M511.6 1261.3L509.9 1261.2L509.1 1262.9L506.1 1262.7L501.6 1259.0L498.9 1257.5L496.9 1257.0L496.2 1254.5" fill="none" stroke="#c4d4e0" stroke-width="0.7" stroke-linejoin="round"/><path d="M509.1 1262.9L510.8 1264.0L512.3 1264.0" fill="none" stroke="#c4d4e0" stroke-width="0.7" stroke-linejoin="round"/><path d="M496.9 1257.0L493.2 1258.3L494.9 1260.2L494.1 1261.2L492.7 1261.4L491.7 1262.7L489.8 1262.3" fill="none" stroke="#c4d4e0" stroke-width="0.7" stroke-linejoin="round"/><path d="M489.9 1262.1L490.6 1258.8L490.9 1255.9L491.2 1254.7" fill="none" stroke="#c4d4e0" stroke-width="0.7" stroke-linejoin="round"/><path d="M488.6 1258.7L489.7 1262.1" fill="none" stroke="#c4d4e0" stroke-width="0.7" stroke-linejoin="round"/><path d="M490.1 1255.1L491.2 1254.7" fill="none" stroke="#c4d4e0" stroke-width="0.7" stroke-linejoin="round"/><path d="M502.9 1285.9L503.6 1284.2L505.8 1284.2L509.9 1284.9L513.3 1282.1L518.3 1281.3L520.1 1285.5" fill="none" stroke="#c4d4e0" stroke-width="0.7" stroke-linejoin="round"/><path d="M518.3 1281.3L523.3 1279.6L524.5 1276.0L523.6 1274.8L519.3 1274.4L517.6 1272.0" fill="none" stroke="#c4d4e0" stroke-width="0.7" stroke-linejoin="round"/><path d="M523.6 1274.8L524.6 1272.0L525.0 1270.7L525.6 1270.7" fill="none" stroke="#c4d4e0" stroke-width="0.7" stroke-linejoin="round"/><path d="M512.4 1225.6L509.9 1222.2L509.1 1221.2L510.1 1219.2L509.6 1217.4L512.4 1217.1L512.9 1215.6L516.3 1212.6L519.1 1213.2L522.5 1214.5L524.5 1215.6L529.3 1214.5L534.2 1215.0L531.7 1212.1L533.3 1209.4L533.3 1206.4L540.0 1205.2L545.9 1202.8L550.0 1202.5L550.0 1205.7L554.2 1206.3L559.2 1205.7L561.6 1208.3L565.1 1215.0L570.9 1214.5L574.3 1218.2L577.3 1219.2L578.1 1219.2" fill="none" stroke="#c4d4e0" stroke-width="0.7" stroke-linejoin="round"/><path d="M577.3 1219.2L574.6 1221.5L574.3 1224.4L570.1 1224.2L568.9 1228.3L565.1 1229.5L566.4 1233.6L565.4 1235.9" fill="none" stroke="#c4d4e0" stroke-width="0.7" stroke-linejoin="round"/><path d="M524.1 1237.9L525.0 1229.5L529.3 1228.0L533.3 1230.9L535.0 1233.0L540.0 1232.5L541.7 1235.5L542.5 1236.6L545.0 1238.6L546.7 1237.7L549.2 1236.4L550.0 1235.7L554.2 1235.2L556.2 1233.6L560.1 1234.3L565.4 1235.9" fill="none" stroke="#c4d4e0" stroke-width="0.7" stroke-linejoin="round"/><path d="M542.5 1246.3L545.0 1247.2L547.5 1245.9L550.0 1244.2L551.0 1247.2L554.2 1246.3L556.6 1246.7" fill="none" stroke="#c4d4e0" stroke-width="0.7" stroke-linejoin="round"/><path d="M556.6 1246.7L556.7 1244.0L554.7 1241.9L558.4 1239.9L562.6 1237.5L565.4 1235.9" fill="none" stroke="#c4d4e0" stroke-width="0.7" stroke-linejoin="round"/><path d="M554.7 1241.9L550.0 1241.9L547.2 1240.3L549.5 1238.6L550.0 1235.7" fill="none" stroke="#c4d4e0" stroke-width="0.7" stroke-linejoin="round"/><path d="M544.7 1246.7L545.7 1244.6L544.0 1241.9L547.2 1240.3" fill="none" stroke="#c4d4e0" stroke-width="0.7" stroke-linejoin="round"/><path d="M549.5 1238.6L552.5 1239.7L553.4 1239.0L551.4 1237.7L549.2 1236.4" fill="none" stroke="#c4d4e0" stroke-width="0.7" stroke-linejoin="round"/><path d="M533.2 1261.5L538.3 1262.1L542.2 1261.4L542.9 1258.8L547.2 1257.5L547.5 1255.1L548.9 1254.5L550.2 1253.3L550.9 1251.3L551.0 1248.6L554.2 1247.4L556.6 1246.7" fill="none" stroke="#c4d4e0" stroke-width="0.7" stroke-linejoin="round"/><path d="M556.6 1246.7L558.4 1249.2L561.7 1250.1" fill="none" stroke="#c4d4e0" stroke-width="0.7" stroke-linejoin="round"/><path d="M626.4 1217.6L628.2 1218.4L631.6 1217.1L633.3 1210.5L633.6 1208.3L637.8 1207.7L641.1 1209.1L644.5 1215.8L644.5 1217.6L649.5 1220.2L650.3 1223.0L656.5 1221.5L654.0 1229.0L650.3 1229.7L650.6 1233.6L649.8 1235.7" fill="none" stroke="#c4d4e0" stroke-width="0.7" stroke-linejoin="round"/><path d="M611.9 1276.9L609.7 1276.0L607.7 1273.8L603.5 1275.1L602.2 1275.3L600.5 1277.4L597.2 1275.8L596.5 1272.4L594.5 1271.5L596.3 1268.7L596.0 1265.7L594.0 1264.6" fill="none" stroke="#c4d4e0" stroke-width="0.7" stroke-linejoin="round"/><path d="M600.5 1277.4L598.7 1279.0L595.2 1280.1L594.2 1282.2L596.3 1286.1L595.5 1288.3L597.2 1291.8L597.7 1294.3L596.3 1296.5" fill="none" stroke="#c4d4e0" stroke-width="0.7" stroke-linejoin="round"/><path d="M598.7 1279.0L599.3 1280.5L600.5 1280.5L600.2 1283.5L602.0 1282.8L604.3 1282.4L606.4 1284.2L607.9 1287.3L607.2 1289.4" fill="none" stroke="#c4d4e0" stroke-width="0.7" stroke-linejoin="round"/><path d="M602.2 1275.3L605.2 1278.7L606.9 1280.5L605.2 1280.8L607.2 1282.6L609.5 1285.2L611.0 1287.5L611.0 1289.0L611.2 1292.6L608.5 1294.0L608.4 1295.3L606.0 1296.2" fill="none" stroke="#c4d4e0" stroke-width="0.7" stroke-linejoin="round"/><path d="M611.0 1289.0L607.2 1289.4L603.5 1289.5L602.7 1290.7L603.3 1294.0" fill="none" stroke="#c4d4e0" stroke-width="0.7" stroke-linejoin="round"/><path d="M598.7 1302.7L600.2 1303.9L602.0 1303.3" fill="none" stroke="#c4d4e0" stroke-width="0.7" stroke-linejoin="round"/><path d="M545.4 1272.9L545.9 1273.7L548.9 1274.2L546.7 1275.5L547.0 1275.7L549.9 1278.3L550.0 1278.2L552.5 1275.7L552.7 1276.9L552.9 1278.7L553.0 1281.3L553.4 1283.1L554.2 1286.6L555.1 1288.3L556.4 1291.8L557.6 1294.0L558.7 1296.9L559.2 1298.5L560.9 1300.1L562.1 1298.9L563.4 1298.0L564.9 1296.3L564.7 1294.3L565.6 1291.6L565.2 1290.9L565.4 1287.5L567.1 1286.8L568.9 1284.9L571.8 1282.6L573.4 1280.6L575.8 1279.6L576.4 1278.7L576.8 1277.3L578.4 1276.6L580.1 1276.6L579.8 1273.8L578.8 1271.5L579.3 1269.6L579.1 1268.0L581.0 1268.7L581.5 1270.0L585.1 1270.2L585.8 1270.7L584.0 1272.4L583.8 1273.3L584.3 1274.2L585.1 1273.1L586.1 1276.0L587.3 1274.2L587.5 1272.4L589.6 1269.6L590.5 1267.4L594.0 1265.2L594.0 1264.6L591.0 1262.9L588.5 1263.1L585.1 1265.4L585.1 1267.1L581.5 1267.4L580.0 1266.3L579.8 1265.0L578.6 1265.2L578.6 1268.0L576.8 1268.0L574.8 1267.6L571.9 1265.9L570.6 1266.1L568.3 1265.2L565.2 1263.5L565.9 1261.6L566.8 1260.8L564.2 1259.2L562.9 1258.3L562.4 1256.3L563.9 1256.3L563.2 1254.3L562.9 1252.7L564.6 1251.7L562.4 1250.3L560.1 1251.3L557.6 1252.3L556.6 1252.9L555.7 1254.1L556.1 1255.7L557.2 1256.7L555.9 1259.2L554.9 1261.2L553.2 1264.0L551.5 1265.2L549.2 1265.2L547.7 1267.2L548.7 1269.3L550.0 1271.5L547.9 1272.0L546.4 1271.8Z" fill="#b7d6f2" stroke="#94b9de" stroke-width="0.9" stroke-linejoin="round"/><path d="M565.2 1263.5L568.3 1265.2L570.6 1266.1L571.9 1265.9L574.8 1267.6L576.8 1268.0L578.6 1268.0L578.6 1265.2L576.8 1265.2L575.1 1265.0L573.4 1264.2L571.8 1263.3L570.1 1262.5L568.4 1260.8L566.8 1260.8L565.9 1261.6Z" fill="#e8f4fd" stroke="#c4d4e0" stroke-width="0.7" stroke-linejoin="round"/><path d="M580.0 1266.3L581.5 1267.4L585.1 1267.1L585.1 1265.9L584.3 1265.2L581.8 1264.4L580.1 1265.2Z" fill="#e8f4fd" stroke="#c4d4e0" stroke-width="0.7" stroke-linejoin="round"/><path d="M580.1 1276.6L579.8 1273.8L578.8 1271.5L579.3 1269.6L579.1 1268.0L581.0 1268.7L581.5 1270.0L585.1 1270.2L585.8 1270.7L584.0 1272.4L583.8 1273.3L584.3 1274.2L585.1 1273.1L586.1 1276.0L585.6 1277.8L585.0 1275.5L583.1 1275.1L581.8 1276.2Z" fill="#eaf5fd" stroke="#c4d4e0" stroke-width="0.7" stroke-linejoin="round"/><path d="M586.3 1294.3L586.8 1292.6L586.8 1290.9L586.4 1291.4L586.1 1293.5Z" fill="#8db7e0" stroke="#8db7e0" stroke-width="0.4" stroke-linejoin="round"/><path d="M482.9 1148.9L479.9 1152.2L479.0 1155.0L481.4 1158.6L480.0 1162.0L481.7 1167.0L481.2 1170.6L482.4 1172.9L484.0 1177.8L479.9 1183.8L477.9 1186.0" fill="none" stroke="#c4d4e0" stroke-width="0.7" stroke-linejoin="round"/><path d="M479.7 1152.5L478.2 1147.9L474.8 1149.4L474.3 1152.7L471.0 1153.6L468.8 1154.1L465.8 1152.4L470.8 1157.7L470.8 1163.7L471.7 1166.6" fill="none" stroke="#c4d4e0" stroke-width="0.7" stroke-linejoin="round"/><path d="M465.8 1152.4L464.8 1155.5L461.6 1155.0L458.3 1160.3L455.6 1165.4L454.3 1171.4L451.8 1175.2L451.8 1182.4L452.8 1183.5L451.8 1187.9L451.1 1190.5L450.1 1191.5" fill="none" stroke="#c4d4e0" stroke-width="0.7" stroke-linejoin="round"/><path d="M478.4 1189.9L477.2 1191.8L477.2 1195.6L478.5 1199.9L483.0 1201.7L482.9 1204.0L486.0 1207.7L483.7 1208.8L484.5 1211.6L488.9 1212.4L490.6 1215.6L494.9 1217.1L498.4 1218.2L497.7 1222.7L495.4 1223.9L495.2 1224.4" fill="none" stroke="#c4d4e0" stroke-width="0.7" stroke-linejoin="round"/><path d="M472.2 1194.7L474.8 1195.0L477.2 1195.6" fill="none" stroke="#c4d4e0" stroke-width="0.7" stroke-linejoin="round"/><path d="M466.6 1200.2L469.8 1199.4L473.2 1199.6L475.8 1201.4L478.5 1199.9" fill="none" stroke="#c4d4e0" stroke-width="0.7" stroke-linejoin="round"/><path d="M475.8 1201.4L474.5 1203.7L474.2 1205.7L470.7 1206.4L469.5 1205.2L464.5 1205.0" fill="none" stroke="#c4d4e0" stroke-width="0.7" stroke-linejoin="round"/><path d="M469.5 1205.2L469.5 1203.7L467.0 1202.7" fill="none" stroke="#c4d4e0" stroke-width="0.7" stroke-linejoin="round"/><path d="M470.7 1206.4L471.3 1209.9L470.8 1213.2L471.7 1215.0L469.2 1219.4" fill="none" stroke="#c4d4e0" stroke-width="0.7" stroke-linejoin="round"/><path d="M470.8 1213.2L476.5 1212.9L482.4 1213.7L484.5 1211.6" fill="none" stroke="#c4d4e0" stroke-width="0.7" stroke-linejoin="round"/><path d="M455.3 1206.6L455.8 1210.5L456.1 1214.5L456.5 1214.8L458.6 1215.6L459.6 1216.6L462.8 1218.4L464.8 1219.2L469.2 1219.4" fill="none" stroke="#c4d4e0" stroke-width="0.7" stroke-linejoin="round"/><path d="M445.8 1203.7L447.9 1204.0" fill="none" stroke="#c4d4e0" stroke-width="0.7" stroke-linejoin="round"/><path d="M443.4 1208.3L443.1 1211.3L441.4 1212.4L441.4 1215.0L441.6 1216.9L442.1 1218.5L445.1 1219.7L444.1 1223.2" fill="none" stroke="#c4d4e0" stroke-width="0.7" stroke-linejoin="round"/><path d="M437.1 1213.6L438.9 1213.4L441.3 1214.5L441.4 1215.0" fill="none" stroke="#c4d4e0" stroke-width="0.7" stroke-linejoin="round"/><path d="M435.7 1214.2L438.4 1217.1L441.1 1218.4L442.1 1218.5" fill="none" stroke="#c4d4e0" stroke-width="0.7" stroke-linejoin="round"/><path d="M444.1 1223.2L441.6 1226.6L442.8 1227.1L443.1 1227.3L442.4 1229.2L443.1 1231.3L443.9 1232.3" fill="none" stroke="#c4d4e0" stroke-width="0.7" stroke-linejoin="round"/><path d="M443.1 1227.3L445.6 1226.6L446.9 1225.9L448.9 1224.9L451.8 1224.7L454.3 1225.9L454.3 1228.0" fill="none" stroke="#c4d4e0" stroke-width="0.7" stroke-linejoin="round"/><path d="M444.1 1223.2L447.4 1223.4L447.3 1224.4L448.9 1224.9" fill="none" stroke="#c4d4e0" stroke-width="0.7" stroke-linejoin="round"/><path d="M447.4 1223.4L448.9 1223.7L453.1 1223.4L453.1 1221.5L454.5 1220.2L451.6 1216.3L455.3 1214.5L456.5 1214.8" fill="none" stroke="#c4d4e0" stroke-width="0.7" stroke-linejoin="round"/><path d="M454.5 1220.2L456.5 1219.7L459.6 1220.7L461.5 1219.7L462.8 1218.4" fill="none" stroke="#c4d4e0" stroke-width="0.7" stroke-linejoin="round"/><path d="M459.6 1220.7L460.0 1222.2L458.3 1224.9L454.3 1225.9" fill="none" stroke="#c4d4e0" stroke-width="0.7" stroke-linejoin="round"/><path d="M454.1 1228.3L457.0 1228.3L459.0 1225.9L458.3 1224.9" fill="none" stroke="#c4d4e0" stroke-width="0.7" stroke-linejoin="round"/><path d="M460.0 1222.2L462.8 1222.7L465.7 1221.0L468.3 1221.2L469.7 1222.2" fill="none" stroke="#c4d4e0" stroke-width="0.7" stroke-linejoin="round"/><path d="M468.3 1221.2L469.2 1219.4" fill="none" stroke="#c4d4e0" stroke-width="0.7" stroke-linejoin="round"/><path d="M469.7 1222.2L466.8 1226.4L465.3 1226.9L463.0 1227.3L459.8 1227.1L459.0 1225.9" fill="none" stroke="#c4d4e0" stroke-width="0.7" stroke-linejoin="round"/><path d="M469.7 1222.2L473.0 1223.0L475.8 1221.5L478.4 1225.2L478.5 1228.3L481.0 1228.8" fill="none" stroke="#c4d4e0" stroke-width="0.7" stroke-linejoin="round"/><path d="M475.8 1221.5L477.5 1221.0L480.2 1222.5L481.7 1226.1L479.7 1227.1L478.5 1228.3" fill="none" stroke="#c4d4e0" stroke-width="0.7" stroke-linejoin="round"/><path d="M479.2 1232.4L476.5 1231.6L474.0 1232.6L469.3 1231.3L467.2 1229.9L465.3 1226.9" fill="none" stroke="#c4d4e0" stroke-width="0.7" stroke-linejoin="round"/><path d="M469.3 1231.3L468.8 1234.6L468.8 1235.7L469.8 1237.8L472.3 1237.5L475.3 1237.0L478.2 1236.4" fill="none" stroke="#c4d4e0" stroke-width="0.7" stroke-linejoin="round"/><path d="M475.3 1237.0L474.8 1239.0" fill="none" stroke="#c4d4e0" stroke-width="0.7" stroke-linejoin="round"/><path d="M464.8 1241.4L466.5 1239.0L469.8 1237.8" fill="none" stroke="#c4d4e0" stroke-width="0.7" stroke-linejoin="round"/><path d="M463.8 1236.6L465.0 1235.0L465.8 1236.6L465.7 1238.1L466.5 1239.0" fill="none" stroke="#c4d4e0" stroke-width="0.7" stroke-linejoin="round"/><path d="M465.8 1236.6L468.8 1235.7" fill="none" stroke="#c4d4e0" stroke-width="0.7" stroke-linejoin="round"/><path d="M457.8 1229.9L458.1 1229.0L459.8 1229.0L463.1 1229.5L463.8 1231.1L463.5 1233.0L462.3 1235.2" fill="none" stroke="#c4d4e0" stroke-width="0.7" stroke-linejoin="round"/><path d="M457.8 1229.9L459.0 1232.0L460.8 1234.1L462.3 1235.2" fill="none" stroke="#c4d4e0" stroke-width="0.7" stroke-linejoin="round"/><path d="M463.1 1229.5L463.0 1227.3" fill="none" stroke="#c4d4e0" stroke-width="0.7" stroke-linejoin="round"/><path d="M463.5 1233.0L465.3 1234.6L465.0 1235.0" fill="none" stroke="#c4d4e0" stroke-width="0.7" stroke-linejoin="round"/><path d="M465.3 1234.6L467.3 1235.7L465.8 1236.6" fill="none" stroke="#c4d4e0" stroke-width="0.7" stroke-linejoin="round"/><path d="M416.7 1236.6L417.7 1236.1L420.4 1236.6L419.9 1238.6L419.7 1241.4L419.0 1241.9L419.7 1244.6L419.0 1246.7" fill="none" stroke="#c4d4e0" stroke-width="0.7" stroke-linejoin="round"/><path d="M428.4 1233.2L432.6 1234.8L436.7 1235.5" fill="none" stroke="#c4d4e0" stroke-width="0.7" stroke-linejoin="round"/><path d="M419.0 1203.4L417.9 1204.9L419.2 1206.0L420.9 1206.0" fill="none" stroke="#c4d4e0" stroke-width="0.7" stroke-linejoin="round"/><path d="M491.6 1249.4L491.9 1248.0" fill="none" stroke="#c4d4e0" stroke-width="0.7" stroke-linejoin="round"/><path d="M590.6 1304.3L594.3 1304.9L596.3 1307.3L599.2 1310.1L601.0 1310.8L603.5 1312.4L604.8 1315.3L606.0 1316.6L608.5 1318.6L608.4 1323.3L606.2 1323.4L604.3 1321.8L602.3 1320.3L600.2 1317.8L599.0 1315.1L596.8 1312.8L596.3 1310.8L593.8 1308.3L591.8 1306.4L590.6 1304.9ZM607.4 1325.0L608.5 1323.4L610.2 1323.4L612.7 1324.8L616.0 1325.1L616.9 1324.3L619.7 1325.1L622.6 1326.5L622.7 1328.2L620.2 1327.5L616.9 1327.3L613.5 1326.5L611.0 1326.5L609.2 1326.0ZM613.5 1311.9L614.7 1310.3L616.9 1311.1L617.5 1309.6L620.2 1308.3L621.9 1305.9L623.6 1305.3L625.2 1303.6L626.6 1302.1L628.1 1302.9L630.6 1304.8L628.6 1306.4L628.2 1307.8L628.2 1310.3L630.2 1312.1L628.2 1312.3L627.7 1314.9L626.1 1316.6L625.7 1319.4L625.1 1320.1L623.1 1320.4L621.1 1319.3L618.2 1319.4L615.5 1318.4L615.4 1316.1L613.9 1314.4L613.5 1313.1ZM631.6 1312.3L633.3 1311.4L636.9 1312.1L639.4 1311.9L640.6 1310.9L639.4 1312.9L636.9 1312.9L633.6 1312.9L632.1 1313.8L632.8 1315.3L634.4 1315.1L637.4 1314.9L637.6 1315.3L635.3 1316.4L634.4 1316.8L636.1 1318.9L637.3 1321.1L636.6 1321.6L635.3 1321.4L634.4 1320.3L633.6 1318.1L632.6 1318.6L632.6 1321.1L632.4 1322.9L631.3 1322.9L630.9 1320.3L629.9 1318.3L630.8 1316.1L631.6 1313.8ZM650.3 1314.9L652.8 1314.3L655.3 1314.9L655.6 1317.4L656.7 1319.1L658.3 1318.6L660.3 1316.4L662.0 1316.3L665.3 1317.4L667.0 1317.9L670.4 1319.3L672.9 1319.9L675.0 1321.8L677.0 1323.4L678.4 1324.1L677.0 1325.0L678.7 1327.0L681.2 1329.5L683.4 1330.9L681.2 1330.9L678.7 1330.5L677.4 1329.5L675.4 1327.3L672.9 1326.5L671.2 1327.5L670.4 1329.0L667.8 1329.0L667.0 1328.8L664.5 1327.1L662.0 1327.5L661.5 1327.6L663.3 1325.6L662.8 1323.6L660.3 1321.9L657.8 1320.9L654.5 1320.1L653.3 1319.1L652.0 1318.3L654.5 1317.4L652.5 1317.3L650.3 1315.9ZM632.9 1282.2L635.6 1282.2L635.8 1284.9L634.4 1286.8L634.6 1289.2L636.1 1290.0L638.6 1290.2L638.8 1292.4L637.4 1291.8L636.1 1291.1L633.6 1290.6L632.9 1289.5L633.4 1289.0L632.1 1288.3L631.8 1286.2L632.6 1284.0ZM635.3 1302.1L636.9 1300.9L637.8 1299.2L640.3 1298.5L641.1 1297.2L642.4 1299.4L642.9 1301.6L642.3 1303.1L640.9 1304.3L640.3 1303.6L638.6 1302.7L638.9 1301.2L637.6 1301.2ZM639.1 1292.6L641.1 1293.1L641.4 1295.2L640.3 1294.8ZM639.3 1294.5L640.3 1295.5L640.6 1296.7L639.8 1296.5ZM636.1 1296.9L637.6 1295.5L637.4 1298.2L636.3 1297.9ZM635.3 1293.8L636.9 1294.3L636.3 1296.0L635.3 1296.0ZM632.6 1291.1L634.3 1291.2L634.3 1292.9L633.6 1293.1ZM627.2 1299.6L629.7 1297.2L631.4 1294.7L630.8 1296.2L628.6 1298.9ZM637.8 1297.0L638.6 1294.8L638.3 1296.9ZM637.8 1330.9L640.3 1329.2L643.3 1327.6L644.1 1327.6L641.9 1329.0L639.4 1330.7ZM622.7 1327.3L624.7 1327.1L626.4 1327.5L627.7 1327.3L630.2 1327.5L630.1 1328.3L626.9 1328.7L625.1 1328.3L623.6 1328.2ZM631.8 1327.8L634.4 1327.6L636.9 1327.3L636.6 1328.2L633.6 1328.5L631.8 1328.3ZM630.2 1329.5L632.3 1329.3L633.3 1330.3L631.9 1330.9ZM644.5 1310.6L645.3 1309.9L646.5 1311.1L645.6 1312.8L646.1 1314.1L645.0 1314.9L644.8 1312.3ZM645.3 1318.9L647.8 1318.3L650.0 1319.3L648.3 1319.4L645.6 1319.4ZM641.9 1318.9L643.8 1318.9L643.6 1319.9L642.1 1319.8ZM608.5 1316.3L609.7 1317.8L608.5 1318.6L607.4 1316.9ZM655.6 1323.4L656.7 1324.1L656.0 1325.1L655.5 1324.1ZM650.3 1326.3L651.5 1325.6L651.5 1327.0L650.6 1327.0ZM679.2 1322.9L682.0 1321.9L685.7 1320.6L685.4 1322.3L682.9 1323.9L680.4 1323.9ZM683.4 1317.9L686.2 1319.4L687.1 1321.4L686.1 1320.3ZM689.9 1322.8L691.9 1325.0L690.7 1324.6ZM698.3 1329.3L700.1 1330.2L698.6 1330.0ZM693.2 1325.3L694.6 1326.0L693.7 1326.1ZM699.9 1327.6L700.9 1329.3L700.1 1328.7ZM705.4 1347.8L708.0 1349.4L710.5 1351.7L708.8 1351.2L706.3 1349.4ZM709.8 1338.9L710.8 1339.7L710.3 1340.1ZM727.7 1343.7L729.8 1343.4L729.3 1344.4L727.7 1344.3ZM730.2 1341.3L732.2 1341.0L731.0 1342.0Z" fill="#e8f4fd" stroke="#c4d4e0" stroke-width="0.7" stroke-linejoin="round"/><path d="M614.7 1310.3L616.0 1312.1L618.6 1311.1L621.7 1311.3L623.6 1309.6L624.7 1306.6L626.9 1306.4L628.2 1306.6" fill="none" stroke="#c4d4e0" stroke-width="0.7" stroke-linejoin="round"/><path d="M621.9 1305.9L623.1 1306.9L624.1 1306.1L623.6 1305.3" fill="none" stroke="#c4d4e0" stroke-width="0.7" stroke-linejoin="round"/><path d="M667.0 1317.9L667.0 1324.5L666.8 1325.1L667.0 1328.8" fill="none" stroke="#c4d4e0" stroke-width="0.7" stroke-linejoin="round"/><path d="M669.5 1331.5L671.2 1334.6L671.2 1337.2L671.7 1337.8L674.2 1338.9L674.2 1339.7L675.0 1342.2L675.9 1345.0L676.7 1346.2L679.5 1348.2L680.7 1349.6L682.9 1352.1L683.4 1353.9L685.2 1355.2L687.2 1357.2L687.1 1360.3L688.1 1363.4L687.1 1367.0L686.2 1370.3L684.2 1373.5L683.4 1375.9L682.0 1379.0L681.9 1381.1L678.7 1381.9L676.0 1384.5L673.7 1382.8L673.5 1382.1L671.2 1383.8L667.8 1383.0L666.2 1382.1L664.8 1379.8L664.5 1377.6L663.5 1377.1L662.2 1377.1L662.8 1375.5L662.0 1372.7L661.7 1371.1L661.0 1373.5L660.3 1376.3L659.7 1375.9L661.0 1372.3L658.7 1375.1L658.5 1375.7L657.3 1374.9L655.6 1371.9L654.8 1370.1L650.6 1368.9L647.0 1369.3L641.9 1370.5L638.6 1371.9L637.8 1373.7L635.1 1373.7L631.9 1373.9L628.6 1375.9L625.2 1375.7L623.7 1374.5L623.6 1372.9L624.7 1369.9L623.6 1367.0L622.9 1363.7L621.2 1359.6L621.1 1357.6L620.9 1354.8L621.9 1350.8L623.6 1350.3L626.4 1348.7L629.6 1348.2L631.9 1347.4L634.4 1345.5L635.6 1344.1L636.1 1342.3L637.8 1343.0L637.9 1341.0L639.4 1339.4L641.1 1337.8L643.3 1336.8L645.3 1338.5L645.6 1338.9L647.8 1338.7L648.0 1336.3L650.0 1334.4L652.0 1333.9L653.0 1332.5L655.3 1333.6L657.8 1333.7L660.0 1334.1L658.7 1336.3L657.8 1338.7L659.5 1340.3L661.7 1341.1L664.2 1343.2L666.7 1343.2L667.8 1339.7L668.0 1336.3L668.3 1333.7L668.8 1332.0ZM673.2 1388.0L676.2 1388.8L679.2 1388.4L679.2 1391.3L677.9 1393.6L676.7 1394.5L675.4 1394.2L674.0 1391.3L673.2 1389.1ZM659.7 1377.3L661.8 1377.3L661.2 1378.2L659.7 1378.0ZM649.0 1332.7L650.8 1332.5L650.1 1333.4ZM671.9 1385.8L672.2 1386.6L671.7 1386.4ZM678.5 1386.0L679.2 1387.3L678.5 1387.1ZM659.3 1336.8L660.2 1337.2L659.7 1337.7ZM664.0 1341.5L664.8 1341.5L664.5 1342.0ZM687.2 1356.3L687.6 1357.7L687.1 1357.4Z" fill="#b5d6f1" stroke="#9fc3e4" stroke-width="0.7" stroke-linejoin="round"/><path d="M720.0 1374.7L721.3 1375.9L723.0 1377.6L723.5 1379.6L724.7 1379.0L725.5 1381.3L727.5 1382.1L729.7 1381.5L728.7 1384.5L727.2 1385.3L727.0 1387.1L724.7 1389.9L724.2 1389.9L723.3 1389.3L724.0 1386.9L722.2 1385.3L721.8 1384.9L723.2 1383.6L723.3 1381.1L722.5 1379.0L720.5 1376.3ZM720.0 1387.5L722.2 1388.6L722.7 1390.4L720.5 1393.1L720.1 1394.5L720.5 1394.9L717.6 1396.1L716.6 1399.9L714.6 1401.6L712.6 1401.6L710.1 1400.6L709.6 1399.4L712.1 1396.1L714.6 1394.5L717.1 1392.4L718.3 1390.2L719.0 1388.4ZM711.5 1402.0L712.5 1402.5L711.8 1403.3Z" fill="#dcecfb" stroke="#c4d4e0" stroke-width="0.7" stroke-linejoin="round"/><path d="M719.6 1209.6L721.2 1209.8L721.0 1209.1L719.6 1209.1Z" fill="#2b81cb" stroke="#2b81cb" stroke-width="0.8" stroke-linejoin="round"/></svg>
<div class="t " style="left:47px;top:986.35px;font-size:14px;font-weight:700;color:#162d3d;letter-spacing:-0.17px;">Sessions by country</div>
<div class="t " style="left:896.4px;top:1040.24px;font-size:12px;font-weight:700;color:#32536a;">Countries</div>
<div class="t " style="left:896.4px;top:1073.9px;font-size:12.4px;color:#162d3d;letter-spacing:0.1px;">United States</div>
<svg class="abs" style="left:982.10px;top:1074.20px" width="6.6" height="10.4" viewBox="0 0 6.6 10.4"><path d="M1.2 1L5.3999999999999995 5.2L1.2 9.4" fill="none" stroke="#3899ec" stroke-width="1.1"/></svg>
<div class="t " style="right:47.950000000000045px;top:1073.59px;font-size:12.3px;font-weight:700;color:#162d3d;letter-spacing:0.25px;">63,353</div>
<div class="track" style="left:896px;top:1092.1px;width:340px"><div class="bar" style="width:110.7px"></div></div>
<div class="t " style="left:896.4px;top:1127.9px;font-size:12.4px;color:#162d3d;letter-spacing:0.05px;">Australia</div>
<svg class="abs" style="left:955.00px;top:1128.20px" width="6.6" height="10.4" viewBox="0 0 6.6 10.4"><path d="M1.2 1L5.3999999999999995 5.2L1.2 9.4" fill="none" stroke="#3899ec" stroke-width="1.1"/></svg>
<div class="t " style="right:47.950000000000045px;top:1127.59px;font-size:12.3px;font-weight:700;color:#162d3d;letter-spacing:0.25px;">17,256</div>
<div class="track" style="left:896px;top:1146.1px;width:340px"><div class="bar" style="width:30.1px"></div></div>
<div class="t " style="left:896.4px;top:1181.9px;font-size:12.4px;color:#162d3d;letter-spacing:0.1px;">India</div>
<svg class="abs" style="left:933.80px;top:1182.20px" width="6.6" height="10.4" viewBox="0 0 6.6 10.4"><path d="M1.2 1L5.3999999999999995 5.2L1.2 9.4" fill="none" stroke="#3899ec" stroke-width="1.1"/></svg>
<div class="t " style="right:47.950000000000045px;top:1181.59px;font-size:12.3px;font-weight:700;color:#162d3d;letter-spacing:0.25px;">16,712</div>
<div class="track" style="left:896px;top:1200.1px;width:340px"><div class="bar" style="width:29.2px"></div></div>
<div class="t " style="left:896.4px;top:1235.9px;font-size:12.4px;color:#162d3d;letter-spacing:-0.2px;">Canada</div>
<svg class="abs" style="left:948.90px;top:1236.20px" width="6.6" height="10.4" viewBox="0 0 6.6 10.4"><path d="M1.2 1L5.3999999999999995 5.2L1.2 9.4" fill="none" stroke="#3899ec" stroke-width="1.1"/></svg>
<div class="t " style="right:47.950000000000045px;top:1235.59px;font-size:12.3px;font-weight:700;color:#162d3d;letter-spacing:0.25px;">7,714</div>
<div class="track" style="left:896px;top:1254.1px;width:340px"><div class="bar" style="width:13.5px"></div></div>
<div class="t " style="left:896.4px;top:1289.9px;font-size:12.4px;color:#162d3d;letter-spacing:0.0px;">Nepal</div>
<svg class="abs" style="left:939.30px;top:1290.20px" width="6.6" height="10.4" viewBox="0 0 6.6 10.4"><path d="M1.2 1L5.3999999999999995 5.2L1.2 9.4" fill="none" stroke="#3899ec" stroke-width="1.1"/></svg>
<div class="t " style="right:47.950000000000045px;top:1289.59px;font-size:12.3px;font-weight:700;color:#162d3d;letter-spacing:0.25px;">4,846</div>
<div class="track" style="left:896px;top:1308.1px;width:340px"><div class="bar" style="width:8.5px"></div></div>
<div class="t " style="left:896.4px;top:1343.9px;font-size:12.4px;color:#162d3d;letter-spacing:-0.12px;">New Zealand</div>
<svg class="abs" style="left:978.40px;top:1344.20px" width="6.6" height="10.4" viewBox="0 0 6.6 10.4"><path d="M1.2 1L5.3999999999999995 5.2L1.2 9.4" fill="none" stroke="#3899ec" stroke-width="1.1"/></svg>
<div class="t " style="right:47.950000000000045px;top:1343.59px;font-size:12.3px;font-weight:700;color:#162d3d;letter-spacing:0.25px;">4,249</div>
<div class="track" style="left:896px;top:1362.1px;width:340px"><div class="bar" style="width:7.4px"></div></div>
<div class="t " style="left:896.4px;top:1397.9px;font-size:12.4px;color:#162d3d;letter-spacing:0.1px;">Algeria</div>
<svg class="abs" style="left:946.00px;top:1398.20px" width="6.6" height="10.4" viewBox="0 0 6.6 10.4"><path d="M1.2 1L5.3999999999999995 5.2L1.2 9.4" fill="none" stroke="#3899ec" stroke-width="1.1"/></svg>
<div class="t " style="right:47.950000000000045px;top:1397.59px;font-size:12.3px;font-weight:700;color:#162d3d;letter-spacing:0.25px;">3,838</div>
<div class="track" style="left:896px;top:1416.1px;width:340px"><div class="bar" style="width:6.7px"></div></div>
<div class="abs" style="left:943.7px;top:1443.7px;width:30.4px;height:30.4px;border-radius:50%;background:#3899ec"></div>
<div class="t " style="left:938.9px;top:1452.25px;font-size:14px;color:#fff;width:40px;text-align:center;">1</div>
<div class="t " style="left:974.5px;top:1452.25px;font-size:14px;color:#32536a;width:40px;text-align:center;">2</div>
<div class="t " style="left:1010.3px;top:1452.25px;font-size:14px;color:#32536a;width:40px;text-align:center;">3</div>
<div class="t " style="left:1046.3px;top:1452.25px;font-size:14px;color:#32536a;width:40px;text-align:center;">4</div>
<div class="t " style="left:1082.2px;top:1452.25px;font-size:14px;color:#32536a;width:40px;text-align:center;">5</div>
<div class="t " style="left:1118.3px;top:1452.25px;font-size:14px;color:#32536a;width:40px;text-align:center;">...</div>
<div class="t " style="left:1154.2px;top:1452.25px;font-size:14px;color:#32536a;width:40px;text-align:center;">31</div>
<svg class="abs" style="left:1206.20px;top:1455.00px" width="6.8" height="10.8" viewBox="0 0 6.8 10.8"><path d="M1.2 1L5.6 5.4L1.2 9.8" fill="none" stroke="#3899ec" stroke-width="1.1"/></svg>
<div class="t " style="left:47px;top:1461.92px;font-size:12.5px;color:#3899ec;letter-spacing:0.15px;">See full report</div>
<div class="t " style="left:53.5px;top:1402.04px;font-size:12px;color:#222;">5</div>
<div class="abs" style="left:66px;top:1403px;width:199px;height:10.4px;background:linear-gradient(90deg,#e7f4fd 0%,#2b81cb 100%)"></div>
<div class="t " style="left:271.4px;top:1401.63px;font-size:12.6px;color:#222;">63,353</div>
</body></html>
